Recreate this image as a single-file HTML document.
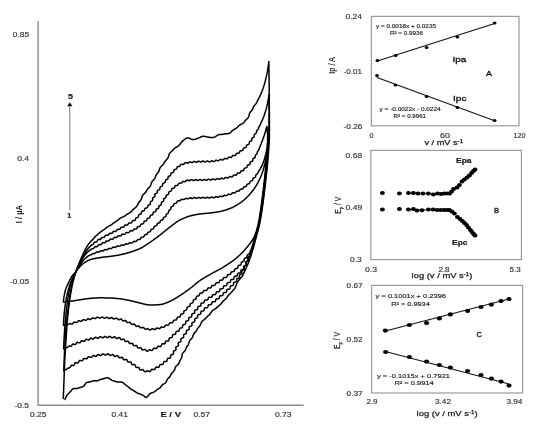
<!DOCTYPE html>
<html><head><meta charset="utf-8"><title>CV figure</title>
<style>html,body{margin:0;padding:0;background:#fff;overflow:hidden}svg{display:block;filter:blur(0.4px)}</style></head>
<body>
<svg width="550" height="424" viewBox="0 0 550 424" font-family="'Liberation Sans', sans-serif">
<rect width="550" height="424" fill="#fff"/>
<path d="M38.1,21 V405.2 H303.6" fill="none" stroke="#8c8c8c" stroke-width="1.4"/>
<text x="12.85" y="37.00" font-size="6.84" textLength="16.25" lengthAdjust="spacingAndGlyphs" fill="#333" stroke="#333" stroke-width="0.15">0.85</text>
<text x="17.20" y="161.10" font-size="6.84" textLength="11.90" lengthAdjust="spacingAndGlyphs" fill="#333" stroke="#333" stroke-width="0.15">0.4</text>
<text x="10.00" y="284.30" font-size="6.84" textLength="19.10" lengthAdjust="spacingAndGlyphs" fill="#333" stroke="#333" stroke-width="0.15">-0.05</text>
<text x="14.40" y="407.70" font-size="6.84" textLength="14.70" lengthAdjust="spacingAndGlyphs" fill="#333" stroke="#333" stroke-width="0.15">-0.5</text>
<text x="30.00" y="417.20" font-size="6.84" textLength="16.40" lengthAdjust="spacingAndGlyphs" fill="#333" stroke="#333" stroke-width="0.15">0.25</text>
<text x="111.60" y="417.20" font-size="6.84" textLength="16.20" lengthAdjust="spacingAndGlyphs" fill="#333" stroke="#333" stroke-width="0.15">0.41</text>
<text x="193.40" y="417.20" font-size="6.84" textLength="16.60" lengthAdjust="spacingAndGlyphs" fill="#333" stroke="#333" stroke-width="0.15">0.57</text>
<text x="275.00" y="417.20" font-size="6.84" textLength="16.60" lengthAdjust="spacingAndGlyphs" fill="#333" stroke="#333" stroke-width="0.15">0.73</text>
<text x="160.40" y="417.00" font-size="7.26" textLength="20.60" lengthAdjust="spacingAndGlyphs" fill="#111" font-weight="bold" stroke="#111" stroke-width="0.15">E / V</text>
<text transform="translate(21.90,223.20) rotate(-90)" x="0" y="0" font-size="9.08" textLength="18.20" lengthAdjust="spacingAndGlyphs" fill="#111" font-weight="bold">I / µA</text>
<path d="M69.8,105 V210" stroke="#777" stroke-width="1"/>
<path d="M69.8,102.2 L72.5,106.2 L67.1,106.2 Z" fill="#111"/>
<text x="68.00" y="98.60" font-size="7.82" textLength="5.00" lengthAdjust="spacingAndGlyphs" fill="#111" font-weight="bold" stroke="#111" stroke-width="0.15">5</text>
<text x="67.20" y="218.40" font-size="7.82" textLength="4.00" lengthAdjust="spacingAndGlyphs" fill="#111" font-weight="bold" stroke="#111" stroke-width="0.15">1</text>
<path d="M63.4,302.0 L63.4,301.5 L63.5,301.1 L63.5,300.6 L63.5,300.2 L63.6,299.7 L63.6,299.2 L63.7,298.8 L63.7,298.3 L63.8,297.9 L63.9,297.4 L63.9,297.0 L64.0,296.5 L64.1,296.1 L64.2,295.6 L64.3,295.2 L64.4,294.7 L64.5,294.3 L64.5,293.8 L64.6,293.4 L64.7,293.0 L64.8,292.5 L64.9,292.1 L65.0,291.6 L65.2,291.2 L65.3,290.8 L65.4,290.3 L65.5,289.9 L65.6,289.5 L65.8,289.0 L65.9,288.6 L66.1,288.2 L66.3,287.8 L66.4,287.3 L66.6,286.9 L66.8,286.5 L67.0,286.1 L67.2,285.7 L67.4,285.2 L67.6,284.8 L67.8,284.4 L68.0,284.0 L68.1,283.6 L68.3,283.1 L68.5,282.7 L68.7,282.3 L68.9,281.9 L69.1,281.5 L69.3,281.1 L69.5,280.6 L69.7,280.2 L69.9,279.8 L70.1,279.4 L70.3,279.0 L70.5,278.6 L70.7,278.2 L70.9,277.8 L71.1,277.4 L71.4,277.0 L71.6,276.7 L71.9,276.3 L72.2,275.9 L72.4,275.6 L72.7,275.2 L73.0,274.9 L73.3,274.5 L73.6,274.2 L73.9,273.8 L74.2,273.5 L74.5,273.2 L74.8,272.8 L75.2,272.5 L75.5,272.1 L75.8,271.8 L76.1,271.4 L76.3,271.1 L76.6,270.7 L76.9,270.4 L77.2,270.0 L77.5,269.6 L77.8,269.3 L78.1,268.9 L78.3,268.5 L78.6,268.2 L78.9,267.8 L79.2,267.4 L79.5,267.1 L79.8,266.7 L80.1,266.4 L80.4,266.1 L80.7,265.7 L81.0,265.4 L81.3,265.1 L81.7,264.8 L82.0,264.5 L82.3,264.2 L82.7,264.0 L83.0,263.7 L83.4,263.4 L83.8,263.1 L84.1,262.8 L84.5,262.6 L84.9,262.3 L85.3,262.1 L85.7,261.8 L86.1,261.6 L86.5,261.3 L86.9,261.1 L87.3,260.9 L87.7,260.6 L88.1,260.4 L88.5,260.3 L89.0,260.1 L89.4,259.9 L89.8,259.8 L90.2,259.6 L90.6,259.5 L91.1,259.4 L91.5,259.3 L91.9,259.1 L92.4,259.0 L92.8,258.9 L93.2,258.8 L93.7,258.7 L94.1,258.6 L94.6,258.5 L95.0,258.4 L95.5,258.4 L95.9,258.3 L96.4,258.2 L96.9,258.1 L97.3,258.0 L97.8,258.0 L98.2,257.9 L98.7,257.8 L99.1,257.7 L99.6,257.7 L100.0,257.6 L100.5,257.5 L100.9,257.5 L101.4,257.4 L101.8,257.3 L102.3,257.3 L102.7,257.2 L103.2,257.2 L103.6,257.1 L104.1,257.1 L104.6,257.0 L105.0,257.0 L105.5,256.9 L105.9,256.9 L106.4,256.8 L106.8,256.8 L107.3,256.7 L107.7,256.7 L108.2,256.6 L108.6,256.6 L109.1,256.5 L109.5,256.5 L110.0,256.4 L110.4,256.3 L110.9,256.3 L111.3,256.2 L111.8,256.2 L112.2,256.1 L112.7,256.0 L113.1,256.0 L113.6,255.9 L114.1,255.8 L114.5,255.8 L115.0,255.7 L115.4,255.6 L115.9,255.5 L116.3,255.5 L116.8,255.4 L117.2,255.3 L117.7,255.2 L118.1,255.2 L118.6,255.1 L119.0,255.0 L119.4,254.9 L119.9,254.8 L120.3,254.7 L120.8,254.6 L121.2,254.5 L121.7,254.4 L122.1,254.3 L122.6,254.2 L123.0,254.1 L123.4,254.0 L123.9,253.9 L124.3,253.8 L124.8,253.7 L125.2,253.6 L125.7,253.5 L126.1,253.3 L126.5,253.2 L127.0,253.1 L127.4,253.0 L127.9,252.8 L128.3,252.7 L128.7,252.6 L129.2,252.5 L129.6,252.3 L130.0,252.2 L130.5,252.1 L130.9,251.9 L131.3,251.8 L131.8,251.6 L132.2,251.5 L132.6,251.4 L133.1,251.2 L133.5,251.1 L134.0,250.9 L134.4,250.8 L134.8,250.6 L135.2,250.5 L135.7,250.3 L136.1,250.1 L136.5,250.0 L137.0,249.8 L137.4,249.6 L137.8,249.5 L138.2,249.3 L138.6,249.1 L139.1,248.9 L139.5,248.7 L139.9,248.6 L140.3,248.4 L140.7,248.2 L141.1,248.0 L141.5,247.8 L141.9,247.5 L142.3,247.3 L142.7,247.1 L143.1,246.9 L143.5,246.6 L143.8,246.4 L144.2,246.2 L144.6,245.9 L145.0,245.7 L145.4,245.4 L145.8,245.2 L146.2,244.9 L146.5,244.6 L146.9,244.4 L147.3,244.1 L147.7,243.9 L148.1,243.6 L148.4,243.4 L148.8,243.1 L149.2,242.8 L149.6,242.6 L150.0,242.3 L150.3,242.1 L150.7,241.8 L151.1,241.6 L151.5,241.3 L151.8,241.0 L152.2,240.8 L152.6,240.5 L152.9,240.3 L153.3,240.0 L153.7,239.7 L154.1,239.5 L154.4,239.2 L154.8,238.9 L155.2,238.6 L155.5,238.4 L155.9,238.1 L156.3,237.8 L156.6,237.6 L157.0,237.3 L157.4,237.0 L157.7,236.7 L158.1,236.5 L158.4,236.2 L158.8,235.9 L159.2,235.6 L159.5,235.4 L159.9,235.1 L160.3,234.8 L160.6,234.5 L161.0,234.2 L161.3,234.0 L161.7,233.7 L162.0,233.4 L162.4,233.1 L162.8,232.8 L163.1,232.5 L163.5,232.2 L163.8,232.0 L164.2,231.7 L164.5,231.4 L164.9,231.1 L165.2,230.8 L165.6,230.5 L165.9,230.2 L166.3,229.9 L166.6,229.6 L167.0,229.4 L167.3,229.1 L167.7,228.8 L168.1,228.5 L168.4,228.2 L168.8,227.9 L169.1,227.7 L169.5,227.4 L169.9,227.1 L170.2,226.8 L170.6,226.6 L171.0,226.3 L171.3,226.0 L171.7,225.7 L172.0,225.4 L172.4,225.2 L172.8,224.9 L173.1,224.6 L173.5,224.3 L173.9,224.0 L174.2,223.8 L174.6,223.5 L175.0,223.2 L175.3,222.9 L175.7,222.7 L176.1,222.4 L176.5,222.1 L176.8,221.9 L177.2,221.6 L177.6,221.4 L178.0,221.2 L178.4,220.9 L178.8,220.7 L179.1,220.5 L179.5,220.2 L179.9,220.0 L180.3,219.8 L180.7,219.6 L181.1,219.4 L181.5,219.2 L182.0,219.0 L182.4,218.8 L182.8,218.6 L183.2,218.5 L183.6,218.3 L184.0,218.1 L184.5,217.9 L184.9,217.7 L185.3,217.6 L185.8,217.4 L186.2,217.2 L186.6,217.1 L187.0,216.9 L187.5,216.8 L187.9,216.6 L188.3,216.5 L188.8,216.3 L189.2,216.2 L189.7,216.1 L190.1,216.0 L190.5,215.9 L191.0,215.7 L191.4,215.6 L191.8,215.5 L192.3,215.4 L192.7,215.3 L193.2,215.2 L193.6,215.1 L194.1,215.0 L194.5,214.9 L195.0,214.8 L195.4,214.8 L195.9,214.7 L196.3,214.6 L196.8,214.5 L197.2,214.4 L197.7,214.3 L198.1,214.3 L198.6,214.2 L199.0,214.1 L199.5,214.1 L199.9,214.0 L200.4,214.0 L200.8,213.9 L201.3,213.8 L201.7,213.8 L202.2,213.7 L202.6,213.7 L203.1,213.7 L203.5,213.6 L204.0,213.6 L204.4,213.5 L204.9,213.5 L205.4,213.5 L205.8,213.4 L206.3,213.4 L206.7,213.3 L207.2,213.3 L207.6,213.3 L208.1,213.2 L208.5,213.2 L209.0,213.1 L209.4,213.1 L209.9,213.0 L210.4,213.0 L210.8,212.9 L211.3,212.8 L211.7,212.8 L212.2,212.7 L212.6,212.7 L213.1,212.6 L213.5,212.6 L214.0,212.5 L214.4,212.4 L214.9,212.4 L215.3,212.3 L215.8,212.2 L216.2,212.2 L216.7,212.1 L217.1,212.0 L217.6,211.9 L218.0,211.9 L218.5,211.8 L218.9,211.7 L219.4,211.6 L219.8,211.5 L220.3,211.4 L220.7,211.4 L221.1,211.3 L221.6,211.2 L222.0,211.0 L222.5,210.9 L222.9,210.8 L223.4,210.7 L223.8,210.6 L224.3,210.5 L224.7,210.3 L225.1,210.2 L225.6,210.1 L226.0,209.9 L226.4,209.8 L226.9,209.6 L227.3,209.5 L227.7,209.3 L228.2,209.2 L228.6,209.0 L229.0,208.9 L229.4,208.7 L229.9,208.6 L230.3,208.4 L230.7,208.2 L231.1,208.0 L231.5,207.9 L231.9,207.7 L232.4,207.5 L232.8,207.3 L233.2,207.1 L233.6,206.9 L234.0,206.7 L234.4,206.4 L234.8,206.2 L235.2,206.0 L235.6,205.8 L236.0,205.5 L236.4,205.3 L236.8,205.1 L237.2,204.8 L237.6,204.6 L238.0,204.3 L238.4,204.1 L238.7,203.8 L239.1,203.6 L239.5,203.3 L239.9,203.1 L240.2,202.8 L240.6,202.6 L241.0,202.3 L241.3,202.0 L241.7,201.8 L242.1,201.5 L242.4,201.2 L242.8,200.9 L243.1,200.6 L243.5,200.3 L243.8,200.1 L244.2,199.8 L244.5,199.5 L244.9,199.1 L245.2,198.8 L245.6,198.5 L245.9,198.2 L246.2,197.9 L246.6,197.6 L246.9,197.3 L247.2,196.9 L247.6,196.6 L247.9,196.3 L248.2,196.0 L248.5,195.6 L248.8,195.3 L249.1,195.0 L249.4,194.6 L249.7,194.3 L250.0,194.0 L250.3,193.6 L250.6,193.3 L250.9,192.9 L251.2,192.6 L251.5,192.2 L251.8,191.9 L252.1,191.5 L252.3,191.2 L252.6,190.8 L252.9,190.4 L253.2,190.1 L253.5,189.7 L253.7,189.3 L254.0,189.0 L254.3,188.6 L254.5,188.2 L254.8,187.8 L255.0,187.4 L255.3,187.0 L255.6,186.7 L255.8,186.3 L256.0,185.9 L256.3,185.5 L256.5,185.1 L256.8,184.7 L257.0,184.3 L257.2,183.9 L257.4,183.5 L257.7,183.1 L257.9,182.7 L258.1,182.3 L258.3,181.9 L258.5,181.5 L258.7,181.1 L258.9,180.7 L259.1,180.3 L259.3,179.9 L259.5,179.5 L259.7,179.1 L259.9,178.7 L260.1,178.3 L260.3,177.8 L260.4,177.4 L260.6,177.0 L260.8,176.6 L261.0,176.1 L261.2,175.7 L261.3,175.3 L261.5,174.9 L261.7,174.4 L261.8,174.0 L262.0,173.6 L262.1,173.1 L262.3,172.7 L262.4,172.3 L262.6,171.9 L262.7,171.4 L262.9,171.0 L263.0,170.6 L263.1,170.1 L263.2,169.7 L263.4,169.3 L263.5,168.8 L263.6,168.4 L263.7,168.0 L263.9,167.5 L264.0,167.1 L264.1,166.6 L264.2,166.2 L264.3,165.8 L264.4,165.3 L264.6,164.9 L264.7,164.4 L264.8,164.0 L264.9,163.6 L265.0,163.1 L265.1,162.7 L265.2,162.2 L265.3,161.8 L265.4,161.3 L265.5,160.9 L265.6,160.4 L265.7,160.0 L265.8,159.5 L265.8,159.1 L265.9,158.6 L266.0,158.2 L266.1,157.7 L266.2,157.3 L266.2,156.8 L266.3,156.4 L266.4,155.9 L266.4,155.5 L266.5,155.0 L266.5,155.5 L266.4,155.9 L266.4,156.4 L266.4,156.8 L266.4,157.3 L266.3,157.7 L266.3,158.2 L266.3,158.6 L266.2,159.1 L266.2,159.5 L266.2,160.0 L266.2,160.5 L266.1,160.9 L266.1,161.4 L266.1,161.8 L266.0,162.3 L266.0,162.7 L266.0,163.2 L265.9,163.6 L265.9,164.1 L265.8,164.5 L265.8,165.0 L265.8,165.5 L265.7,165.9 L265.7,166.4 L265.7,166.8 L265.6,167.3 L265.6,167.7 L265.6,168.2 L265.5,168.6 L265.5,169.1 L265.4,169.5 L265.4,170.0 L265.4,170.5 L265.3,170.9 L265.3,171.4 L265.2,171.8 L265.2,172.3 L265.2,172.7 L265.1,173.2 L265.1,173.6 L265.0,174.1 L265.0,174.5 L264.9,175.0 L264.9,175.4 L264.8,175.9 L264.8,176.3 L264.7,176.8 L264.7,177.3 L264.6,177.7 L264.6,178.2 L264.6,178.6 L264.5,179.1 L264.5,179.5 L264.4,180.0 L264.4,180.4 L264.3,180.9 L264.3,181.3 L264.2,181.8 L264.2,182.2 L264.1,182.7 L264.1,183.1 L264.0,183.6 L263.9,184.0 L263.9,184.5 L263.8,185.0 L263.8,185.4 L263.7,185.9 L263.7,186.3 L263.6,186.8 L263.6,187.2 L263.5,187.7 L263.5,188.1 L263.4,188.6 L263.4,189.0 L263.3,189.5 L263.3,189.9 L263.2,190.4 L263.2,190.8 L263.1,191.3 L263.0,191.7 L263.0,192.2 L262.9,192.6 L262.9,193.1 L262.8,193.6 L262.8,194.0 L262.7,194.5 L262.7,194.9 L262.6,195.4 L262.5,195.8 L262.5,196.3 L262.4,196.7 L262.4,197.2 L262.3,197.6 L262.3,198.1 L262.2,198.5 L262.1,199.0 L262.1,199.4 L262.0,199.9 L262.0,200.3 L261.9,200.8 L261.8,201.2 L261.8,201.7 L261.7,202.1 L261.7,202.6 L261.6,203.0 L261.5,203.5 L261.5,203.9 L261.4,204.4 L261.3,204.9 L261.3,205.3 L261.2,205.8 L261.2,206.2 L261.1,206.7 L261.0,207.1 L261.0,207.6 L260.9,208.0 L260.8,208.5 L260.8,208.9 L260.7,209.4 L260.6,209.8 L260.6,210.3 L260.5,210.7 L260.4,211.2 L260.4,211.6 L260.3,212.1 L260.2,212.5 L260.2,213.0 L260.1,213.4 L260.0,213.9 L260.0,214.3 L259.9,214.8 L259.8,215.2 L259.7,215.7 L259.7,216.1 L259.6,216.6 L259.5,217.0 L259.4,217.5 L259.4,217.9 L259.3,218.4 L259.2,218.8 L259.1,219.3 L259.1,219.7 L259.0,220.2 L258.9,220.6 L258.8,221.1 L258.7,221.5 L258.6,222.0 L258.5,222.4 L258.4,222.8 L258.4,223.3 L258.3,223.7 L258.2,224.2 L258.1,224.6 L258.0,225.1 L257.9,225.5 L257.8,226.0 L257.6,226.4 L257.5,226.9 L257.4,227.3 L257.3,227.8 L257.2,228.2 L257.1,228.6 L257.0,229.1 L256.8,229.5 L256.7,230.0 L256.6,230.4 L256.4,230.9 L256.3,231.3 L256.2,231.7 L256.0,232.2 L255.9,232.6 L255.7,233.0 L255.6,233.5 L255.4,233.9 L255.3,234.3 L255.1,234.7 L255.0,235.1 L254.8,235.6 L254.6,236.0 L254.4,236.4 L254.3,236.8 L254.1,237.2 L253.9,237.6 L253.7,238.0 L253.4,238.4 L253.2,238.7 L253.0,239.1 L252.8,239.5 L252.5,239.9 L252.3,240.3 L252.0,240.7 L251.8,241.1 L251.5,241.4 L251.3,241.8 L251.0,242.2 L250.7,242.6 L250.5,242.9 L250.2,243.3 L249.9,243.7 L249.6,244.0 L249.3,244.4 L249.0,244.8 L248.7,245.1 L248.4,245.5 L248.1,245.9 L247.8,246.2 L247.5,246.6 L247.2,246.9 L246.9,247.3 L246.6,247.6 L246.3,248.0 L246.0,248.3 L245.7,248.7 L245.4,249.0 L245.1,249.4 L244.9,249.7 L244.6,250.1 L244.3,250.4 L244.0,250.7 L243.7,251.1 L243.3,251.4 L243.0,251.7 L242.7,252.1 L242.4,252.4 L242.1,252.7 L241.8,253.0 L241.4,253.4 L241.1,253.7 L240.8,254.0 L240.5,254.3 L240.1,254.6 L239.8,255.0 L239.5,255.3 L239.1,255.6 L238.8,255.9 L238.4,256.2 L238.1,256.5 L237.8,256.8 L237.4,257.1 L237.1,257.4 L236.7,257.7 L236.4,258.0 L236.0,258.3 L235.7,258.6 L235.3,258.9 L235.0,259.1 L234.6,259.4 L234.3,259.7 L233.9,260.0 L233.5,260.3 L233.2,260.5 L232.8,260.8 L232.5,261.1 L232.1,261.4 L231.7,261.6 L231.3,261.9 L231.0,262.2 L230.6,262.4 L230.2,262.7 L229.9,262.9 L229.5,263.2 L229.1,263.5 L228.7,263.7 L228.3,264.0 L228.0,264.2 L227.6,264.5 L227.2,264.7 L226.8,265.0 L226.4,265.2 L226.0,265.5 L225.7,265.7 L225.3,266.0 L224.9,266.2 L224.5,266.4 L224.1,266.7 L223.7,266.9 L223.3,267.2 L222.9,267.4 L222.6,267.6 L222.2,267.9 L221.8,268.1 L221.4,268.3 L221.0,268.5 L220.6,268.8 L220.2,269.0 L219.8,269.2 L219.4,269.4 L219.0,269.6 L218.6,269.8 L218.2,270.1 L217.8,270.3 L217.4,270.5 L217.0,270.7 L216.6,270.9 L216.2,271.1 L215.8,271.3 L215.4,271.6 L215.0,271.8 L214.5,272.0 L214.1,272.2 L213.7,272.4 L213.3,272.6 L212.9,272.9 L212.5,273.1 L212.1,273.3 L211.8,273.5 L211.4,273.8 L211.0,274.0 L210.6,274.2 L210.2,274.4 L209.8,274.6 L209.4,274.9 L209.0,275.1 L208.6,275.3 L208.2,275.5 L207.8,275.8 L207.4,276.0 L207.0,276.2 L206.6,276.4 L206.2,276.7 L205.8,276.9 L205.4,277.1 L205.0,277.4 L204.6,277.6 L204.2,277.8 L203.8,278.1 L203.4,278.3 L203.0,278.5 L202.7,278.8 L202.3,279.0 L201.9,279.3 L201.5,279.5 L201.1,279.7 L200.7,280.0 L200.4,280.2 L200.0,280.5 L199.6,280.8 L199.3,281.0 L198.9,281.3 L198.5,281.6 L198.2,281.8 L197.8,282.1 L197.5,282.4 L197.1,282.7 L196.7,283.0 L196.4,283.3 L196.0,283.6 L195.7,283.8 L195.3,284.1 L195.0,284.4 L194.6,284.7 L194.3,285.0 L193.9,285.3 L193.6,285.6 L193.2,285.9 L192.9,286.2 L192.5,286.5 L192.2,286.8 L191.8,287.1 L191.5,287.4 L191.1,287.6 L190.8,287.9 L190.4,288.2 L190.0,288.5 L189.7,288.7 L189.3,289.0 L188.9,289.3 L188.6,289.6 L188.2,289.8 L187.8,290.1 L187.5,290.4 L187.1,290.6 L186.7,290.9 L186.4,291.2 L186.0,291.4 L185.6,291.7 L185.2,292.0 L184.9,292.2 L184.5,292.5 L184.1,292.8 L183.8,293.0 L183.4,293.3 L183.0,293.5 L182.6,293.8 L182.2,294.0 L181.9,294.3 L181.5,294.5 L181.1,294.8 L180.7,295.0 L180.3,295.3 L180.0,295.5 L179.6,295.8 L179.2,296.0 L178.8,296.3 L178.4,296.5 L178.0,296.8 L177.6,297.0 L177.3,297.3 L176.9,297.5 L176.5,297.8 L176.1,298.0 L175.7,298.2 L175.3,298.5 L174.9,298.7 L174.5,299.0 L174.1,299.2 L173.7,299.4 L173.3,299.6 L172.9,299.9 L172.5,300.1 L172.1,300.3 L171.7,300.5 L171.3,300.7 L170.9,300.9 L170.5,301.1 L170.1,301.3 L169.7,301.4 L169.3,301.6 L168.9,301.8 L168.4,302.0 L168.0,302.2 L167.6,302.3 L167.2,302.5 L166.7,302.7 L166.3,302.9 L165.9,303.1 L165.4,303.2 L165.0,303.4 L164.6,303.6 L164.1,303.7 L163.7,303.8 L163.3,304.0 L162.8,304.1 L162.4,304.2 L161.9,304.3 L161.5,304.4 L161.0,304.5 L160.6,304.5 L160.2,304.6 L159.7,304.6 L159.3,304.7 L158.8,304.7 L158.4,304.7 L157.9,304.7 L157.5,304.8 L157.0,304.8 L156.6,304.8 L156.1,304.8 L155.6,304.9 L155.2,304.9 L154.7,304.9 L154.3,304.9 L153.8,304.9 L153.3,304.9 L152.9,305.0 L152.4,305.0 L152.0,305.0 L151.5,305.0 L151.1,305.0 L150.6,305.0 L150.1,305.0 L149.7,305.0 L149.2,305.0 L148.8,304.9 L148.3,304.9 L147.9,304.8 L147.4,304.8 L147.0,304.7 L146.6,304.6 L146.1,304.5 L145.7,304.4 L145.2,304.3 L144.8,304.2 L144.3,304.1 L143.9,304.0 L143.4,303.9 L143.0,303.8 L142.5,303.6 L142.1,303.5 L141.6,303.4 L141.2,303.3 L140.8,303.2 L140.3,303.1 L139.9,303.0 L139.4,302.9 L139.0,302.8 L138.5,302.7 L138.1,302.6 L137.7,302.5 L137.2,302.3 L136.8,302.2 L136.3,302.1 L135.9,302.0 L135.4,301.9 L135.0,301.8 L134.6,301.7 L134.1,301.6 L133.7,301.4 L133.2,301.3 L132.8,301.2 L132.3,301.1 L131.9,301.0 L131.5,300.9 L131.0,300.8 L130.6,300.7 L130.1,300.6 L129.7,300.5 L129.2,300.4 L128.8,300.3 L128.3,300.3 L127.9,300.2 L127.4,300.1 L127.0,300.0 L126.5,299.9 L126.1,299.8 L125.7,299.7 L125.2,299.6 L124.8,299.5 L124.3,299.5 L123.9,299.4 L123.4,299.3 L123.0,299.2 L122.5,299.1 L122.1,299.1 L121.6,299.0 L121.2,298.9 L120.7,298.9 L120.3,298.8 L119.8,298.8 L119.4,298.7 L118.9,298.7 L118.4,298.6 L118.0,298.6 L117.5,298.5 L117.1,298.5 L116.6,298.4 L116.2,298.4 L115.7,298.4 L115.3,298.3 L114.8,298.3 L114.4,298.2 L113.9,298.2 L113.5,298.2 L113.0,298.1 L112.5,298.1 L112.1,298.1 L111.6,298.1 L111.2,298.0 L110.7,298.0 L110.3,298.0 L109.8,298.0 L109.4,298.0 L108.9,298.0 L108.4,298.0 L108.0,297.9 L107.5,297.9 L107.1,297.9 L106.6,297.9 L106.2,297.9 L105.7,297.9 L105.3,297.9 L104.8,297.9 L104.3,297.8 L103.9,297.8 L103.4,297.8 L103.0,297.8 L102.5,297.8 L102.1,297.8 L101.6,297.8 L101.2,297.8 L100.7,297.8 L100.2,297.8 L99.8,297.8 L99.3,297.8 L98.9,297.8 L98.4,297.8 L98.0,297.8 L97.5,297.9 L97.1,297.9 L96.6,297.9 L96.1,297.9 L95.7,297.9 L95.2,298.0 L94.8,298.0 L94.3,298.0 L93.9,298.1 L93.4,298.1 L93.0,298.2 L92.5,298.2 L92.1,298.2 L91.6,298.3 L91.1,298.3 L90.7,298.3 L90.2,298.4 L89.8,298.4 L89.3,298.5 L88.9,298.5 L88.4,298.6 L88.0,298.6 L87.5,298.7 L87.1,298.7 L86.6,298.8 L86.2,298.9 L85.7,298.9 L85.3,299.0 L84.8,299.1 L84.4,299.1 L83.9,299.2 L83.5,299.3 L83.0,299.3 L82.6,299.4 L82.1,299.5 L81.7,299.5 L81.2,299.6 L80.8,299.7 L80.3,299.8 L79.9,299.8 L79.4,299.9 L79.0,300.0 L78.5,300.0 L78.1,300.1 L77.6,300.2 L77.2,300.2 L76.7,300.3 L76.3,300.4 L75.8,300.4 L75.4,300.5 L74.9,300.6 L74.5,300.7 L74.0,300.7 L73.6,300.8 L73.1,300.9 L72.6,300.9 L72.2,301.0 L71.7,301.1 L71.3,301.1 L70.8,301.2 L70.4,301.2 L69.9,301.3 L69.5,301.4 L69.0,301.4 L68.6,301.5 L68.1,301.5 L67.7,301.6 L67.2,301.6 L66.8,301.7 L66.3,301.7 L65.9,301.8 L65.4,301.8 L65.0,301.9 L64.5,301.9 L64.1,302.0 L63.6,302.0" fill="none" stroke="#000" stroke-width="1.5" stroke-linejoin="round" stroke-linecap="round"/>
<path d="M63.5,325.4 L63.5,324.9 L63.5,324.5 L63.5,324.0 L63.5,323.6 L63.6,323.1 L63.6,322.7 L63.6,322.2 L63.6,321.7 L63.6,321.3 L63.7,320.8 L63.7,320.4 L63.7,319.9 L63.7,319.5 L63.8,319.0 L63.8,318.5 L63.8,318.1 L63.9,317.6 L63.9,317.2 L63.9,316.7 L64.0,316.3 L64.0,315.8 L64.1,315.4 L64.1,314.9 L64.1,314.5 L64.2,314.0 L64.2,313.5 L64.3,313.1 L64.3,312.6 L64.4,312.2 L64.4,311.7 L64.5,311.3 L64.5,310.8 L64.6,310.4 L64.6,309.9 L64.7,309.5 L64.7,309.0 L64.8,308.6 L64.8,308.1 L64.9,307.7 L64.9,307.2 L65.0,306.8 L65.0,306.3 L65.1,305.9 L65.1,305.4 L65.2,305.0 L65.3,304.5 L65.3,304.1 L65.4,303.6 L65.4,303.2 L65.5,302.7 L65.6,302.3 L65.7,301.8 L65.7,301.4 L65.8,300.9 L65.9,300.5 L66.0,300.0 L66.0,299.6 L66.1,299.1 L66.2,298.7 L66.3,298.2 L66.4,297.8 L66.5,297.3 L66.6,296.9 L66.7,296.4 L66.8,296.0 L66.9,295.5 L67.0,295.1 L67.1,294.6 L67.2,294.2 L67.3,293.8 L67.4,293.3 L67.5,292.9 L67.7,292.4 L67.8,292.0 L67.9,291.5 L68.0,291.1 L68.1,290.7 L68.3,290.2 L68.4,289.8 L68.5,289.3 L68.6,288.9 L68.7,288.5 L68.9,288.0 L69.0,287.6 L69.1,287.2 L69.3,286.7 L69.4,286.3 L69.5,285.9 L69.7,285.4 L69.8,285.0 L69.9,284.6 L70.1,284.1 L70.2,283.7 L70.4,283.3 L70.5,282.9 L70.7,282.5 L70.9,282.0 L71.0,281.6 L71.2,281.2 L71.4,280.8 L71.6,280.3 L71.7,279.9 L71.9,279.5 L72.1,279.1 L72.3,278.7 L72.5,278.3 L72.7,277.8 L72.9,277.4 L73.1,277.0 L73.3,276.6 L73.5,276.2 L73.7,275.8 L73.9,275.4 L74.2,275.0 L74.4,274.6 L74.6,274.2 L74.8,273.8 L75.0,273.4 L75.2,273.0 L75.4,272.5 L75.7,272.1 L75.9,271.7 L76.1,271.4 L76.3,271.0 L76.5,270.6 L76.7,270.2 L77.0,269.8 L77.2,269.4 L77.4,269.0 L77.6,268.6 L77.9,268.2 L78.1,267.8 L78.3,267.4 L78.6,267.0 L78.8,266.6 L79.0,266.2 L79.3,265.8 L79.5,265.4 L79.8,265.0 L80.0,264.6 L80.3,264.3 L80.6,263.9 L80.8,263.5 L81.1,263.2 L81.4,262.8 L81.6,262.5 L81.9,262.1 L82.2,261.8 L82.5,261.4 L82.8,261.1 L83.1,260.7 L83.4,260.4 L83.7,260.0 L84.0,259.7 L84.3,259.3 L84.7,259.0 L85.0,258.7 L85.3,258.3 L85.7,258.0 L86.0,257.7 L86.3,257.4 L86.7,257.1 L87.1,256.9 L87.4,256.6 L87.8,256.3 L88.1,256.1 L88.5,255.9 L88.9,255.7 L89.3,255.5 L89.7,255.2 L90.1,255.1 L90.5,254.9 L90.9,254.7 L91.4,254.5 L91.8,254.3 L92.2,254.0 L92.6,253.8 L93.0,253.6 L93.5,253.6 L94.0,253.6 L94.5,253.5 L94.9,253.4 L95.3,253.2 L95.7,252.8 L96.0,252.4 L96.4,252.1 L96.8,252.0 L97.3,252.0 L97.8,252.1 L98.3,252.2 L98.8,252.2 L99.2,252.0 L99.6,251.7 L99.9,251.3 L100.3,251.0 L100.7,250.8 L101.2,250.7 L101.7,250.8 L102.2,251.0 L102.7,251.0 L103.2,250.9 L103.6,250.7 L103.9,250.3 L104.3,249.9 L104.7,249.7 L105.1,249.6 L105.6,249.6 L106.1,249.7 L106.7,249.8 L107.1,249.8 L107.5,249.6 L107.9,249.3 L108.3,248.9 L108.6,248.5 L109.1,248.4 L109.5,248.4 L110.0,248.5 L110.6,248.6 L111.0,248.6 L111.5,248.5 L111.9,248.2 L112.2,247.8 L112.6,247.5 L113.0,247.2 L113.5,247.1 L113.9,247.2 L114.5,247.3 L115.0,247.4 L115.4,247.4 L115.8,247.2 L116.2,246.8 L116.6,246.5 L117.0,246.1 L117.4,246.0 L117.9,246.0 L118.4,246.2 L118.9,246.3 L119.4,246.3 L119.8,246.2 L120.2,245.9 L120.6,245.5 L121.0,245.2 L121.4,245.0 L121.8,244.9 L122.3,245.0 L122.8,245.2 L123.3,245.3 L123.8,245.2 L124.2,245.0 L124.6,244.6 L125.0,244.3 L125.3,244.0 L125.8,243.8 L126.3,243.9 L126.8,244.0 L127.3,244.1 L127.8,244.1 L128.2,244.0 L128.6,243.7 L128.9,243.3 L129.3,242.9 L129.7,242.7 L130.2,242.7 L130.7,242.8 L131.2,242.9 L131.7,242.9 L132.2,242.8 L132.6,242.6 L132.9,242.2 L133.3,241.8 L133.6,241.5 L134.1,241.3 L134.6,241.4 L135.1,241.4 L135.6,241.5 L136.0,241.4 L136.4,241.2 L136.7,240.8 L137.0,240.4 L137.3,240.0 L137.7,239.7 L138.1,239.6 L138.6,239.6 L139.2,239.6 L139.7,239.5 L140.1,239.3 L140.4,238.9 L140.6,238.4 L140.8,237.9 L141.1,237.6 L141.5,237.3 L142.0,237.2 L142.6,237.2 L143.1,237.1 L143.5,236.9 L143.8,236.6 L144.1,236.1 L144.3,235.6 L144.5,235.2 L144.8,234.9 L145.3,234.7 L145.8,234.6 L146.3,234.5 L146.8,234.4 L147.1,234.1 L147.4,233.7 L147.6,233.2 L147.8,232.7 L148.0,232.3 L148.4,232.1 L148.9,231.9 L149.4,231.9 L149.9,231.7 L150.3,231.5 L150.6,231.1 L150.7,230.6 L150.9,230.1 L151.1,229.6 L151.4,229.3 L151.8,229.1 L152.4,229.0 L152.9,228.9 L153.3,228.6 L153.6,228.3 L153.8,227.9 L154.0,227.3 L154.1,226.9 L154.4,226.5 L154.8,226.2 L155.2,226.1 L155.8,225.9 L156.2,225.8 L156.6,225.5 L156.9,225.1 L157.0,224.6 L157.2,224.1 L157.4,223.7 L157.7,223.3 L158.2,223.2 L158.7,223.0 L159.2,222.9 L159.6,222.7 L159.9,222.3 L160.1,221.9 L160.2,221.4 L160.4,220.9 L160.7,220.5 L161.1,220.3 L161.6,220.1 L162.1,220.0 L162.6,219.8 L162.9,219.5 L163.1,219.1 L163.3,218.6 L163.4,218.1 L163.6,217.6 L163.9,217.3 L164.3,217.1 L164.8,216.9 L165.3,216.8 L165.7,216.5 L166.0,216.1 L166.1,215.6 L166.1,215.1 L166.3,214.6 L166.5,214.2 L166.8,213.9 L167.3,213.7 L167.8,213.4 L168.2,213.2 L168.4,212.8 L168.5,212.3 L168.6,211.8 L168.6,211.2 L168.7,210.8 L169.0,210.4 L169.4,210.1 L169.9,209.8 L170.3,209.6 L170.6,209.2 L170.8,208.8 L170.9,208.3 L170.9,207.8 L171.0,207.3 L171.3,206.9 L171.6,206.6 L172.1,206.4 L172.6,206.3 L173.0,206.1 L173.3,205.7 L173.5,205.3 L173.6,204.8 L173.8,204.3 L174.0,203.9 L174.4,203.6 L174.9,203.4 L175.5,203.3 L176.0,203.2 L176.4,203.0 L176.7,202.6 L176.9,202.1 L177.1,201.6 L177.4,201.2 L177.8,200.9 L178.3,200.8 L178.8,200.8 L179.3,200.9 L179.7,200.8 L180.1,200.7 L180.4,200.3 L180.8,199.9 L181.1,199.6 L181.5,199.4 L182.0,199.3 L182.5,199.4 L183.0,199.6 L183.5,199.6 L183.9,199.6 L184.4,199.3 L184.8,199.0 L185.2,198.6 L185.6,198.4 L186.0,198.3 L186.5,198.4 L187.0,198.6 L187.5,198.8 L188.0,198.8 L188.5,198.7 L188.9,198.5 L189.3,198.1 L189.8,197.9 L190.2,197.8 L190.7,197.8 L191.1,198.0 L191.6,198.3 L192.1,198.5 L192.5,198.5 L193.0,198.3 L193.4,198.0 L193.9,197.7 L194.3,197.6 L194.8,197.6 L195.2,197.7 L195.7,198.0 L196.2,198.2 L196.6,198.3 L197.1,198.2 L197.5,198.0 L198.0,197.7 L198.4,197.5 L198.9,197.4 L199.3,197.5 L199.8,197.8 L200.3,198.0 L200.7,198.2 L201.2,198.2 L201.6,198.0 L202.1,197.7 L202.5,197.5 L203.0,197.3 L203.4,197.4 L203.9,197.6 L204.4,197.8 L204.8,198.0 L205.3,198.1 L205.7,198.0 L206.2,197.8 L206.6,197.5 L207.1,197.3 L207.5,197.3 L208.0,197.4 L208.4,197.6 L208.9,197.9 L209.4,198.0 L209.8,198.0 L210.3,197.8 L210.7,197.5 L211.2,197.2 L211.6,197.1 L212.1,197.1 L212.5,197.3 L213.0,197.6 L213.5,197.7 L213.9,197.8 L214.4,197.6 L214.8,197.3 L215.2,197.0 L215.7,196.8 L216.1,196.7 L216.6,196.8 L217.1,197.0 L217.6,197.2 L218.0,197.3 L218.5,197.2 L218.9,196.9 L219.3,196.6 L219.7,196.3 L220.2,196.2 L220.6,196.2 L221.1,196.3 L221.6,196.5 L222.1,196.6 L222.6,196.6 L223.0,196.4 L223.4,196.0 L223.8,195.7 L224.2,195.4 L224.6,195.3 L225.1,195.4 L225.6,195.5 L226.1,195.6 L226.6,195.6 L227.0,195.4 L227.4,195.1 L227.8,194.7 L228.1,194.4 L228.6,194.2 L229.0,194.2 L229.5,194.3 L230.0,194.4 L230.5,194.4 L231.0,194.3 L231.4,194.0 L231.7,193.6 L232.0,193.2 L232.4,193.0 L232.9,192.8 L233.4,192.8 L233.9,192.9 L234.4,193.0 L234.9,192.9 L235.3,192.7 L235.6,192.3 L235.9,191.8 L236.3,191.5 L236.7,191.2 L237.1,191.1 L237.6,191.2 L238.2,191.2 L238.6,191.2 L239.0,191.0 L239.4,190.6 L239.6,190.2 L239.9,189.7 L240.2,189.4 L240.6,189.2 L241.1,189.2 L241.7,189.2 L242.2,189.1 L242.6,188.9 L242.9,188.6 L243.2,188.1 L243.4,187.6 L243.6,187.2 L244.0,186.9 L244.4,186.8 L245.0,186.7 L245.5,186.6 L246.0,186.4 L246.3,186.1 L246.5,185.7 L246.7,185.2 L246.9,184.7 L247.2,184.3 L247.6,184.1 L248.1,183.9 L248.6,183.8 L249.1,183.7 L249.4,183.4 L249.7,183.0 L249.9,182.5 L250.0,182.0 L250.2,181.6 L250.5,181.3 L250.9,181.0 L251.4,180.9 L251.9,180.7 L252.3,180.5 L252.6,180.1 L252.8,179.7 L252.9,179.1 L253.0,178.6 L253.2,178.2 L253.6,177.9 L254.1,177.7 L254.6,177.5 L255.0,177.3 L255.3,176.9 L255.5,176.5 L255.6,176.0 L255.7,175.5 L255.9,175.1 L256.2,174.7 L256.6,174.4 L256.9,174.2 L257.3,173.8 L257.6,173.5 L257.8,173.1 L258.0,172.7 L258.1,172.2 L258.3,171.8 L258.6,171.4 L258.8,171.1 L259.1,170.7 L259.4,170.3 L259.6,169.9 L259.8,169.5 L260.1,169.1 L260.3,168.7 L260.5,168.3 L260.7,167.9 L261.0,167.5 L261.2,167.1 L261.4,166.7 L261.6,166.3 L261.8,165.9 L262.0,165.5 L262.2,165.1 L262.4,164.6 L262.6,164.2 L262.8,163.8 L263.0,163.4 L263.1,163.0 L263.3,162.5 L263.5,162.1 L263.6,161.7 L263.8,161.3 L263.9,160.8 L264.0,160.4 L264.1,160.0 L264.3,159.6 L264.4,159.1 L264.5,158.7 L264.6,158.3 L264.8,157.9 L264.9,157.4 L265.0,157.0 L265.1,156.6 L265.2,156.1 L265.4,155.7 L265.5,155.2 L265.6,154.8 L265.7,154.4 L265.8,153.9 L265.9,153.5 L266.0,153.0 L266.1,152.6 L266.2,152.1 L266.3,151.7 L266.4,151.3 L266.5,150.8 L266.6,150.4 L266.7,149.9 L266.7,149.5 L266.8,149.0 L266.9,148.5 L267.0,148.1 L267.0,147.6 L267.1,147.2 L267.2,146.7 L267.2,146.3 L267.3,145.8 L267.3,145.3 L267.4,144.9 L267.4,144.4 L267.4,143.9 L267.5,143.5 L267.5,143.0 L267.5,143.5 L267.5,143.9 L267.5,144.4 L267.5,144.8 L267.5,145.3 L267.5,145.7 L267.5,146.2 L267.5,146.6 L267.5,147.1 L267.5,147.6 L267.4,148.0 L267.4,148.5 L267.4,148.9 L267.4,149.4 L267.4,149.8 L267.4,150.3 L267.4,150.7 L267.4,151.2 L267.3,151.7 L267.3,152.1 L267.3,152.6 L267.3,153.0 L267.3,153.5 L267.3,153.9 L267.3,154.4 L267.2,154.8 L267.2,155.3 L267.2,155.7 L267.2,156.2 L267.2,156.7 L267.2,157.1 L267.1,157.6 L267.1,158.0 L267.1,158.5 L267.1,158.9 L267.0,159.4 L267.0,159.8 L267.0,160.3 L266.9,160.7 L266.9,161.2 L266.9,161.6 L266.8,162.1 L266.8,162.5 L266.7,163.0 L266.7,163.5 L266.7,163.9 L266.6,164.4 L266.6,164.8 L266.5,165.3 L266.5,165.7 L266.4,166.2 L266.4,166.6 L266.3,167.1 L266.3,167.5 L266.2,168.0 L266.2,168.4 L266.1,168.9 L266.1,169.3 L266.0,169.8 L266.0,170.2 L265.9,170.7 L265.9,171.2 L265.8,171.6 L265.7,172.1 L265.7,172.5 L265.6,173.0 L265.6,173.4 L265.5,173.9 L265.5,174.3 L265.4,174.8 L265.4,175.2 L265.3,175.7 L265.3,176.1 L265.2,176.6 L265.1,177.0 L265.1,177.5 L265.0,177.9 L265.0,178.4 L264.9,178.8 L264.9,179.3 L264.8,179.8 L264.8,180.2 L264.7,180.7 L264.7,181.1 L264.6,181.6 L264.6,182.0 L264.5,182.5 L264.5,182.9 L264.4,183.4 L264.4,183.8 L264.3,184.3 L264.3,184.7 L264.2,185.2 L264.2,185.6 L264.1,186.1 L264.1,186.5 L264.0,187.0 L264.0,187.4 L263.9,187.9 L263.8,188.3 L263.8,188.8 L263.7,189.2 L263.7,189.7 L263.6,190.2 L263.6,190.6 L263.5,191.1 L263.5,191.5 L263.4,192.0 L263.4,192.4 L263.3,192.9 L263.2,193.3 L263.2,193.8 L263.1,194.2 L263.1,194.7 L263.0,195.1 L263.0,195.6 L262.9,196.0 L262.9,196.5 L262.8,196.9 L262.7,197.4 L262.7,197.8 L262.6,198.3 L262.6,198.7 L262.5,199.2 L262.4,199.6 L262.4,200.1 L262.3,200.5 L262.3,201.0 L262.2,201.4 L262.1,201.9 L262.1,202.3 L262.0,202.8 L262.0,203.3 L261.9,203.7 L261.8,204.2 L261.8,204.6 L261.7,205.1 L261.6,205.5 L261.6,206.0 L261.5,206.4 L261.5,206.9 L261.4,207.3 L261.3,207.8 L261.3,208.2 L261.2,208.7 L261.1,209.1 L261.1,209.6 L261.0,210.0 L260.9,210.5 L260.9,210.9 L260.8,211.4 L260.7,211.8 L260.7,212.3 L260.6,212.7 L260.5,213.2 L260.5,213.6 L260.4,214.1 L260.3,214.5 L260.2,215.0 L260.2,215.4 L260.1,215.9 L260.0,216.3 L260.0,216.8 L259.9,217.2 L259.8,217.7 L259.7,218.1 L259.7,218.6 L259.6,219.0 L259.5,219.5 L259.4,219.9 L259.3,220.4 L259.2,220.8 L259.2,221.2 L259.1,221.7 L259.0,222.1 L258.9,222.6 L258.8,223.0 L258.7,223.5 L258.6,223.9 L258.5,224.4 L258.4,224.8 L258.3,225.2 L258.2,225.7 L258.1,226.1 L258.0,226.6 L257.9,227.0 L257.7,227.4 L257.6,227.9 L257.5,228.3 L257.4,228.8 L257.3,229.2 L257.1,229.6 L257.0,230.1 L256.9,230.5 L256.7,230.9 L256.6,231.4 L256.5,231.8 L256.3,232.3 L256.2,232.7 L256.1,233.1 L255.9,233.6 L255.8,234.0 L255.7,234.4 L255.5,234.9 L255.4,235.3 L255.3,235.7 L255.1,236.2 L255.0,236.6 L254.9,237.1 L254.8,237.5 L254.7,237.9 L254.5,238.4 L254.4,238.8 L254.3,239.3 L254.2,239.7 L254.1,240.2 L254.0,240.6 L253.8,241.1 L253.7,241.5 L253.6,242.0 L253.5,242.4 L253.4,242.9 L253.3,243.3 L253.1,243.7 L253.0,244.2 L252.9,244.6 L252.8,245.1 L252.6,245.5 L252.5,245.9 L252.4,246.4 L252.2,246.8 L252.1,247.2 L251.9,247.6 L251.8,248.1 L251.6,248.5 L251.5,248.9 L251.3,249.3 L251.2,249.7 L250.9,250.1 L250.7,250.5 L250.4,250.9 L250.2,251.2 L250.0,251.7 L249.9,252.1 L249.7,252.5 L249.6,253.0 L249.4,253.4 L249.1,253.8 L248.7,254.0 L248.3,254.3 L247.8,254.6 L247.5,254.9 L247.3,255.3 L247.1,255.8 L247.1,256.3 L247.0,256.8 L246.8,257.3 L246.5,257.6 L246.1,257.8 L245.5,258.0 L245.0,258.2 L244.6,258.4 L244.3,258.8 L244.2,259.3 L244.2,259.9 L244.2,260.4 L244.0,260.9 L243.8,261.3 L243.3,261.5 L242.8,261.7 L242.2,261.8 L241.8,262.0 L241.4,262.3 L241.3,262.8 L241.2,263.3 L241.1,263.9 L241.0,264.4 L240.8,264.8 L240.4,265.1 L239.9,265.2 L239.3,265.3 L238.8,265.5 L238.4,265.7 L238.1,266.1 L238.0,266.6 L237.9,267.1 L237.8,267.7 L237.6,268.1 L237.3,268.4 L236.8,268.5 L236.2,268.6 L235.7,268.7 L235.2,268.8 L234.9,269.1 L234.7,269.6 L234.6,270.1 L234.4,270.7 L234.2,271.1 L233.9,271.5 L233.5,271.6 L232.9,271.7 L232.4,271.7 L231.8,271.8 L231.4,272.0 L231.1,272.4 L231.0,272.9 L230.8,273.4 L230.6,273.9 L230.3,274.3 L229.9,274.5 L229.4,274.6 L228.8,274.6 L228.3,274.6 L227.8,274.8 L227.5,275.1 L227.2,275.5 L227.0,276.1 L226.9,276.6 L226.6,277.0 L226.2,277.3 L225.7,277.4 L225.2,277.4 L224.6,277.4 L224.1,277.5 L223.7,277.7 L223.5,278.1 L223.3,278.6 L223.1,279.2 L222.9,279.6 L222.5,280.0 L222.1,280.1 L221.6,280.2 L221.0,280.1 L220.5,280.2 L220.0,280.3 L219.7,280.7 L219.5,281.1 L219.3,281.7 L219.1,282.2 L218.8,282.5 L218.4,282.8 L217.9,282.8 L217.3,282.8 L216.8,282.8 L216.3,282.9 L215.9,283.2 L215.6,283.6 L215.4,284.1 L215.2,284.6 L215.0,285.0 L214.6,285.3 L214.1,285.4 L213.6,285.4 L213.0,285.4 L212.5,285.5 L212.1,285.6 L211.8,286.0 L211.5,286.5 L211.3,287.0 L211.1,287.5 L210.8,287.8 L210.3,288.0 L209.8,288.0 L209.2,288.0 L208.7,287.9 L208.2,288.0 L207.8,288.3 L207.6,288.7 L207.3,289.3 L207.1,289.8 L206.8,290.1 L206.4,290.4 L205.9,290.4 L205.3,290.4 L204.8,290.4 L204.3,290.4 L203.9,290.6 L203.6,291.0 L203.3,291.5 L203.1,292.0 L202.9,292.5 L202.6,292.8 L202.1,292.9 L201.6,293.0 L201.0,293.0 L200.5,293.0 L200.1,293.2 L199.8,293.6 L199.6,294.0 L199.5,294.6 L199.4,295.1 L199.1,295.5 L198.8,295.8 L198.3,295.9 L197.8,296.0 L197.2,296.1 L196.8,296.3 L196.5,296.7 L196.3,297.1 L196.2,297.7 L196.2,298.2 L196.0,298.7 L195.8,299.1 L195.3,299.3 L194.8,299.5 L194.3,299.6 L193.8,299.8 L193.4,300.1 L193.2,300.6 L193.2,301.1 L193.1,301.7 L193.0,302.2 L192.8,302.6 L192.4,302.9 L191.9,303.1 L191.4,303.2 L190.9,303.4 L190.5,303.6 L190.2,304.0 L190.1,304.5 L190.0,305.1 L190.0,305.6 L189.8,306.1 L189.5,306.4 L189.0,306.6 L188.5,306.7 L187.9,306.9 L187.5,307.1 L187.2,307.4 L187.0,307.9 L186.9,308.4 L186.9,309.0 L186.8,309.5 L186.5,309.9 L186.1,310.1 L185.6,310.3 L185.0,310.4 L184.5,310.6 L184.2,310.9 L183.9,311.3 L183.8,311.8 L183.8,312.4 L183.7,312.9 L183.5,313.3 L183.1,313.6 L182.6,313.8 L182.1,313.9 L181.5,314.0 L181.1,314.2 L180.8,314.5 L180.6,315.0 L180.5,315.5 L180.4,316.1 L180.2,316.5 L179.9,316.8 L179.4,317.0 L178.9,317.1 L178.3,317.1 L177.8,317.2 L177.4,317.5 L177.2,317.9 L177.0,318.4 L176.9,319.0 L176.7,319.4 L176.4,319.8 L176.0,320.0 L175.4,320.1 L174.9,320.1 L174.3,320.1 L173.9,320.3 L173.5,320.6 L173.3,321.1 L173.1,321.6 L172.9,322.1 L172.6,322.5 L172.2,322.8 L171.7,322.8 L171.2,322.8 L170.6,322.8 L170.1,322.8 L169.7,323.0 L169.4,323.4 L169.2,323.9 L169.0,324.4 L168.7,324.8 L168.3,325.1 L167.8,325.2 L167.3,325.2 L166.7,325.1 L166.2,325.1 L165.7,325.2 L165.4,325.5 L165.1,325.9 L164.8,326.4 L164.5,326.9 L164.1,327.2 L163.7,327.3 L163.2,327.3 L162.6,327.1 L162.1,327.0 L161.6,327.0 L161.2,327.1 L160.8,327.5 L160.5,327.9 L160.1,328.3 L159.7,328.6 L159.3,328.7 L158.8,328.6 L158.3,328.4 L157.8,328.2 L157.3,328.0 L156.9,328.1 L156.4,328.3 L156.0,328.7 L155.6,329.1 L155.2,329.4 L154.8,329.6 L154.3,329.5 L153.8,329.3 L153.3,329.0 L152.8,328.8 L152.4,328.7 L151.9,328.8 L151.5,329.1 L151.0,329.5 L150.6,329.8 L150.1,330.0 L149.7,329.9 L149.2,329.7 L148.8,329.3 L148.4,329.0 L148.0,328.7 L147.6,328.6 L147.1,328.7 L146.6,328.9 L146.1,329.2 L145.5,329.3 L145.1,329.2 L144.7,328.9 L144.3,328.5 L144.0,328.0 L143.6,327.7 L143.2,327.4 L142.7,327.4 L142.2,327.5 L141.7,327.7 L141.1,327.8 L140.7,327.8 L140.3,327.6 L139.9,327.2 L139.6,326.8 L139.2,326.3 L138.9,326.0 L138.4,325.9 L137.9,326.0 L137.4,326.1 L136.8,326.3 L136.3,326.3 L135.9,326.1 L135.6,325.7 L135.3,325.3 L135.0,324.8 L134.7,324.4 L134.3,324.2 L133.8,324.1 L133.2,324.2 L132.7,324.4 L132.2,324.4 L131.7,324.3 L131.3,324.0 L131.0,323.6 L130.7,323.1 L130.4,322.7 L130.0,322.4 L129.6,322.3 L129.1,322.4 L128.5,322.5 L128.0,322.6 L127.5,322.6 L127.1,322.4 L126.7,322.0 L126.4,321.5 L126.1,321.0 L125.8,320.7 L125.3,320.5 L124.8,320.5 L124.3,320.7 L123.8,320.8 L123.3,320.9 L122.8,320.8 L122.5,320.5 L122.1,320.0 L121.8,319.6 L121.4,319.2 L121.0,319.0 L120.5,319.1 L120.0,319.2 L119.5,319.5 L119.0,319.7 L118.5,319.7 L118.1,319.5 L117.7,319.2 L117.3,318.8 L116.9,318.4 L116.5,318.2 L116.0,318.2 L115.5,318.3 L115.0,318.6 L114.5,318.8 L114.1,318.9 L113.6,318.9 L113.2,318.6 L112.8,318.3 L112.3,317.9 L111.9,317.6 L111.5,317.6 L111.0,317.7 L110.5,318.0 L110.0,318.3 L109.6,318.5 L109.1,318.5 L108.7,318.4 L108.2,318.0 L107.8,317.7 L107.3,317.4 L106.9,317.2 L106.4,317.3 L106.0,317.6 L105.5,317.9 L105.0,318.1 L104.6,318.3 L104.1,318.2 L103.7,317.9 L103.2,317.6 L102.8,317.3 L102.3,317.1 L101.9,317.1 L101.4,317.3 L100.9,317.6 L100.5,317.9 L100.0,318.1 L99.6,318.2 L99.2,318.0 L98.7,317.7 L98.2,317.4 L97.7,317.2 L97.3,317.2 L96.8,317.4 L96.4,317.7 L96.0,318.1 L95.6,318.5 L95.2,318.6 L94.7,318.6 L94.2,318.4 L93.7,318.2 L93.2,318.0 L92.7,317.9 L92.3,318.1 L91.9,318.4 L91.5,318.8 L91.1,319.2 L90.7,319.4 L90.2,319.5 L89.7,319.4 L89.2,319.1 L88.7,318.9 L88.2,318.8 L87.8,318.8 L87.4,319.1 L87.0,319.5 L86.6,319.9 L86.2,320.2 L85.7,320.3 L85.3,320.3 L84.8,320.1 L84.3,319.8 L83.8,319.7 L83.3,319.7 L82.9,319.9 L82.5,320.2 L82.1,320.7 L81.7,321.0 L81.3,321.3 L80.9,321.3 L80.4,321.2 L79.8,321.0 L79.3,320.8 L78.8,320.7 L78.4,320.9 L78.0,321.2 L77.7,321.6 L77.3,322.1 L77.0,322.4 L76.5,322.6 L76.0,322.5 L75.5,322.4 L75.0,322.2 L74.5,322.1 L74.0,322.2 L73.6,322.5 L73.3,322.9 L73.0,323.4 L72.6,323.8 L72.2,324.0 L71.7,324.0 L71.2,323.9 L70.7,323.7 L70.2,323.6 L69.7,323.7 L69.3,323.9 L68.9,324.1 L68.5,324.4 L68.1,324.6 L67.6,324.7 L67.2,324.8 L66.7,324.8 L66.3,324.9 L65.8,325.0 L65.4,325.0 L64.9,325.1 L64.5,325.2 L64.0,325.3 L63.6,325.4" fill="none" stroke="#000" stroke-width="1.5" stroke-linejoin="round" stroke-linecap="round"/>
<path d="M63.6,349.0 L63.6,348.5 L63.6,348.1 L63.6,347.6 L63.7,347.2 L63.7,346.7 L63.7,346.3 L63.7,345.8 L63.7,345.4 L63.8,344.9 L63.8,344.4 L63.8,344.0 L63.8,343.5 L63.8,343.1 L63.9,342.6 L63.9,342.2 L63.9,341.7 L63.9,341.3 L64.0,340.8 L64.0,340.4 L64.0,339.9 L64.0,339.4 L64.0,339.0 L64.1,338.5 L64.1,338.1 L64.1,337.6 L64.2,337.2 L64.2,336.7 L64.2,336.3 L64.2,335.8 L64.3,335.4 L64.3,334.9 L64.3,334.4 L64.3,334.0 L64.4,333.5 L64.4,333.1 L64.4,332.6 L64.5,332.2 L64.5,331.7 L64.5,331.3 L64.5,330.8 L64.6,330.4 L64.6,329.9 L64.6,329.4 L64.7,329.0 L64.7,328.5 L64.7,328.1 L64.8,327.6 L64.8,327.2 L64.8,326.7 L64.9,326.3 L64.9,325.8 L64.9,325.4 L65.0,324.9 L65.0,324.4 L65.0,324.0 L65.1,323.5 L65.1,323.1 L65.2,322.6 L65.2,322.2 L65.2,321.7 L65.3,321.3 L65.3,320.8 L65.4,320.4 L65.4,319.9 L65.4,319.5 L65.5,319.0 L65.5,318.5 L65.6,318.1 L65.6,317.6 L65.6,317.2 L65.7,316.7 L65.7,316.3 L65.8,315.8 L65.8,315.4 L65.9,314.9 L65.9,314.5 L66.0,314.0 L66.0,313.6 L66.1,313.1 L66.1,312.6 L66.2,312.2 L66.2,311.7 L66.3,311.3 L66.3,310.8 L66.4,310.4 L66.4,309.9 L66.5,309.5 L66.5,309.0 L66.6,308.6 L66.6,308.1 L66.7,307.7 L66.7,307.2 L66.8,306.8 L66.8,306.3 L66.9,305.9 L66.9,305.4 L67.0,305.0 L67.1,304.5 L67.1,304.1 L67.2,303.6 L67.2,303.2 L67.3,302.7 L67.4,302.3 L67.4,301.8 L67.5,301.3 L67.5,300.9 L67.6,300.4 L67.7,300.0 L67.7,299.5 L67.8,299.1 L67.9,298.6 L67.9,298.2 L68.0,297.7 L68.1,297.3 L68.1,296.8 L68.2,296.4 L68.3,295.9 L68.4,295.5 L68.4,295.0 L68.5,294.6 L68.6,294.1 L68.7,293.6 L68.7,293.2 L68.8,292.7 L68.9,292.3 L69.0,291.9 L69.1,291.4 L69.2,291.0 L69.3,290.5 L69.3,290.1 L69.4,289.6 L69.5,289.2 L69.6,288.7 L69.7,288.3 L69.8,287.8 L69.9,287.4 L70.0,287.0 L70.1,286.5 L70.2,286.1 L70.3,285.7 L70.4,285.2 L70.6,284.8 L70.7,284.4 L70.8,283.9 L70.9,283.5 L71.1,283.1 L71.2,282.6 L71.3,282.2 L71.5,281.8 L71.7,281.3 L71.8,280.9 L72.0,280.5 L72.1,280.1 L72.3,279.6 L72.5,279.2 L72.7,278.8 L72.9,278.4 L73.0,278.0 L73.2,277.5 L73.4,277.1 L73.6,276.7 L73.8,276.3 L74.0,275.9 L74.2,275.5 L74.4,275.0 L74.6,274.6 L74.8,274.2 L74.9,273.8 L75.1,273.4 L75.3,273.0 L75.5,272.5 L75.7,272.1 L75.9,271.7 L76.1,271.3 L76.3,270.9 L76.5,270.5 L76.7,270.0 L76.8,269.6 L77.0,269.2 L77.2,268.8 L77.4,268.4 L77.6,268.0 L77.8,267.6 L78.0,267.1 L78.2,266.7 L78.4,266.3 L78.6,265.9 L78.8,265.5 L79.0,265.1 L79.2,264.7 L79.4,264.2 L79.6,263.8 L79.8,263.4 L80.0,263.0 L80.2,262.6 L80.4,262.2 L80.6,261.8 L80.9,261.4 L81.1,261.0 L81.3,260.6 L81.5,260.3 L81.8,259.9 L82.0,259.5 L82.2,259.1 L82.5,258.7 L82.7,258.3 L83.0,257.9 L83.2,257.6 L83.5,257.2 L83.8,256.8 L84.0,256.4 L84.3,256.0 L84.6,255.6 L84.8,255.3 L85.1,254.9 L85.4,254.5 L85.7,254.2 L86.0,253.8 L86.3,253.5 L86.6,253.1 L86.9,252.8 L87.2,252.5 L87.5,252.2 L87.8,251.9 L88.1,251.6 L88.5,251.3 L88.8,251.0 L89.2,250.8 L89.5,250.5 L89.9,250.2 L90.3,250.0 L90.6,249.7 L91.0,249.4 L91.4,249.1 L91.8,248.9 L92.2,248.8 L92.7,248.7 L93.2,248.5 L93.6,248.3 L93.9,248.0 L94.2,247.6 L94.5,247.2 L94.9,246.8 L95.3,246.7 L95.8,246.6 L96.4,246.7 L96.9,246.7 L97.3,246.5 L97.6,246.2 L97.9,245.7 L98.2,245.2 L98.5,244.8 L98.9,244.6 L99.4,244.6 L99.9,244.7 L100.5,244.7 L100.9,244.7 L101.3,244.4 L101.6,244.0 L101.9,243.5 L102.2,243.1 L102.6,242.8 L103.0,242.7 L103.5,242.7 L104.1,242.8 L104.6,242.8 L105.0,242.7 L105.4,242.4 L105.7,241.9 L105.9,241.4 L106.3,241.0 L106.7,240.9 L107.2,240.9 L107.7,241.0 L108.3,241.0 L108.7,241.0 L109.1,240.7 L109.4,240.3 L109.7,239.8 L110.0,239.4 L110.4,239.1 L110.9,239.0 L111.4,239.1 L112.0,239.2 L112.5,239.2 L112.9,239.1 L113.2,238.7 L113.5,238.3 L113.8,237.8 L114.2,237.5 L114.6,237.3 L115.1,237.3 L115.7,237.5 L116.2,237.5 L116.6,237.5 L117.0,237.2 L117.3,236.8 L117.6,236.3 L118.0,235.9 L118.4,235.7 L118.9,235.7 L119.4,235.8 L119.9,235.9 L120.4,235.9 L120.9,235.8 L121.2,235.4 L121.5,235.0 L121.8,234.5 L122.2,234.2 L122.7,234.1 L123.2,234.2 L123.7,234.3 L124.2,234.4 L124.7,234.3 L125.1,234.0 L125.4,233.6 L125.7,233.1 L126.0,232.7 L126.4,232.5 L126.9,232.5 L127.4,232.6 L128.0,232.7 L128.5,232.7 L128.9,232.5 L129.2,232.1 L129.5,231.6 L129.8,231.2 L130.2,230.9 L130.6,230.8 L131.2,230.8 L131.7,230.9 L132.2,230.9 L132.7,230.8 L133.0,230.5 L133.3,230.0 L133.6,229.5 L133.9,229.1 L134.3,228.9 L134.8,228.9 L135.3,228.9 L135.9,229.0 L136.3,228.9 L136.7,228.6 L136.9,228.2 L137.1,227.6 L137.4,227.2 L137.7,226.8 L138.1,226.7 L138.6,226.6 L139.2,226.6 L139.7,226.5 L140.1,226.3 L140.3,225.8 L140.5,225.3 L140.7,224.8 L140.9,224.4 L141.3,224.1 L141.7,223.9 L142.3,223.9 L142.8,223.8 L143.3,223.6 L143.6,223.2 L143.7,222.7 L143.9,222.2 L144.0,221.7 L144.3,221.3 L144.8,221.1 L145.3,221.0 L145.8,221.0 L146.3,220.8 L146.7,220.5 L146.9,220.1 L147.0,219.6 L147.1,219.0 L147.4,218.6 L147.7,218.3 L148.2,218.2 L148.8,218.1 L149.3,218.0 L149.7,217.7 L149.9,217.3 L150.1,216.8 L150.2,216.3 L150.3,215.8 L150.6,215.4 L151.0,215.2 L151.5,215.1 L152.1,214.9 L152.5,214.8 L152.9,214.4 L153.0,213.9 L153.1,213.4 L153.2,212.9 L153.4,212.4 L153.8,212.1 L154.2,212.0 L154.8,211.9 L155.3,211.7 L155.7,211.4 L155.9,211.0 L156.0,210.5 L156.0,209.9 L156.2,209.4 L156.5,209.1 L156.9,208.8 L157.4,208.7 L157.9,208.5 L158.4,208.3 L158.6,207.9 L158.8,207.4 L158.8,206.9 L158.9,206.3 L159.0,205.9 L159.4,205.6 L159.9,205.4 L160.4,205.3 L160.9,205.0 L161.2,204.7 L161.3,204.2 L161.3,203.7 L161.3,203.1 L161.4,202.6 L161.6,202.3 L162.1,202.0 L162.6,201.8 L163.1,201.5 L163.4,201.2 L163.6,200.8 L163.7,200.3 L163.6,199.7 L163.7,199.2 L163.8,198.8 L164.2,198.4 L164.7,198.2 L165.2,198.0 L165.6,197.8 L165.9,197.4 L166.0,197.0 L166.1,196.4 L166.1,195.9 L166.2,195.4 L166.5,195.1 L167.0,194.8 L167.5,194.7 L168.0,194.5 L168.4,194.2 L168.6,193.8 L168.7,193.3 L168.8,192.7 L168.9,192.2 L169.1,191.8 L169.5,191.5 L170.0,191.4 L170.6,191.2 L171.0,191.0 L171.4,190.7 L171.5,190.2 L171.6,189.7 L171.7,189.2 L171.9,188.7 L172.3,188.4 L172.8,188.3 L173.3,188.2 L173.8,188.1 L174.2,187.9 L174.5,187.6 L174.7,187.1 L174.8,186.5 L175.0,186.1 L175.4,185.7 L175.8,185.6 L176.4,185.5 L177.0,185.5 L177.4,185.4 L177.8,185.1 L178.1,184.7 L178.3,184.2 L178.5,183.7 L178.9,183.3 L179.3,183.1 L179.8,183.1 L180.4,183.2 L180.9,183.2 L181.3,183.1 L181.7,182.8 L182.0,182.4 L182.3,181.9 L182.6,181.6 L183.0,181.4 L183.5,181.4 L184.0,181.6 L184.6,181.7 L185.1,181.7 L185.5,181.5 L185.9,181.2 L186.2,180.7 L186.6,180.3 L187.0,180.1 L187.5,180.1 L188.0,180.3 L188.5,180.5 L189.0,180.7 L189.4,180.7 L189.9,180.5 L190.3,180.2 L190.7,179.9 L191.2,179.7 L191.6,179.7 L192.1,179.9 L192.6,180.2 L193.0,180.5 L193.5,180.6 L193.9,180.5 L194.4,180.3 L194.8,179.9 L195.3,179.7 L195.7,179.6 L196.2,179.7 L196.7,180.0 L197.1,180.3 L197.6,180.5 L198.0,180.5 L198.5,180.3 L199.0,180.0 L199.4,179.7 L199.9,179.5 L200.3,179.5 L200.8,179.7 L201.2,180.1 L201.7,180.3 L202.2,180.4 L202.6,180.3 L203.1,180.1 L203.5,179.7 L203.9,179.4 L204.4,179.4 L204.9,179.5 L205.3,179.8 L205.8,180.1 L206.3,180.3 L206.7,180.2 L207.2,180.0 L207.6,179.7 L208.0,179.4 L208.5,179.2 L208.9,179.2 L209.4,179.4 L209.9,179.7 L210.4,180.0 L210.8,180.1 L211.3,179.9 L211.7,179.6 L212.1,179.3 L212.6,179.0 L213.0,178.9 L213.5,179.1 L214.0,179.3 L214.5,179.6 L214.9,179.8 L215.4,179.7 L215.8,179.5 L216.2,179.1 L216.7,178.8 L217.1,178.6 L217.6,178.6 L218.0,178.8 L218.5,179.1 L219.0,179.3 L219.5,179.4 L219.9,179.2 L220.3,178.8 L220.7,178.5 L221.2,178.2 L221.6,178.1 L222.1,178.2 L222.6,178.5 L223.1,178.7 L223.6,178.8 L224.0,178.7 L224.4,178.4 L224.8,178.0 L225.2,177.6 L225.7,177.5 L226.1,177.5 L226.6,177.7 L227.1,177.9 L227.6,178.0 L228.1,178.0 L228.5,177.7 L228.9,177.3 L229.2,176.9 L229.6,176.6 L230.0,176.5 L230.5,176.6 L231.0,176.8 L231.6,176.9 L232.1,176.9 L232.5,176.7 L232.8,176.3 L233.1,175.8 L233.4,175.4 L233.8,175.1 L234.3,175.0 L234.8,175.1 L235.4,175.2 L235.9,175.2 L236.3,175.0 L236.7,174.6 L236.9,174.1 L237.2,173.6 L237.5,173.2 L237.9,173.0 L238.4,173.0 L239.0,173.1 L239.5,173.1 L239.9,172.9 L240.3,172.6 L240.5,172.1 L240.7,171.6 L240.9,171.2 L241.3,170.9 L241.7,170.7 L242.2,170.7 L242.8,170.7 L243.3,170.5 L243.7,170.2 L243.9,169.8 L244.0,169.2 L244.2,168.7 L244.4,168.3 L244.8,168.0 L245.3,167.9 L245.9,167.8 L246.4,167.7 L246.8,167.4 L247.0,167.0 L247.2,166.5 L247.2,166.0 L247.4,165.5 L247.7,165.1 L248.1,164.9 L248.6,164.8 L249.2,164.7 L249.6,164.5 L249.9,164.1 L250.0,163.6 L250.1,163.1 L250.2,162.5 L250.4,162.1 L250.7,161.8 L251.2,161.6 L251.8,161.5 L252.2,161.3 L252.6,160.9 L252.8,160.5 L252.8,159.9 L252.8,159.4 L252.9,158.9 L253.2,158.5 L253.6,158.2 L254.1,158.0 L254.6,157.8 L255.0,157.5 L255.2,157.1 L255.2,156.6 L255.3,156.1 L255.3,155.6 L255.5,155.2 L255.8,154.8 L256.2,154.5 L256.6,154.2 L256.9,153.9 L257.1,153.5 L257.2,153.1 L257.3,152.6 L257.4,152.1 L257.5,151.7 L257.7,151.3 L258.0,150.9 L258.3,150.5 L258.6,150.2 L258.8,149.8 L258.9,149.3 L259.1,148.9 L259.2,148.4 L259.4,148.0 L259.5,147.6 L259.7,147.2 L259.9,146.8 L260.1,146.3 L260.3,145.9 L260.4,145.5 L260.6,145.0 L260.8,144.6 L260.9,144.2 L261.1,143.8 L261.3,143.3 L261.4,142.9 L261.6,142.5 L261.8,142.1 L261.9,141.6 L262.1,141.2 L262.3,140.8 L262.4,140.4 L262.6,139.9 L262.8,139.5 L262.9,139.1 L263.1,138.7 L263.2,138.2 L263.4,137.8 L263.5,137.4 L263.7,136.9 L263.8,136.5 L264.0,136.1 L264.1,135.7 L264.3,135.2 L264.4,134.8 L264.6,134.4 L264.7,133.9 L264.8,133.5 L265.0,133.1 L265.1,132.6 L265.3,132.2 L265.4,131.8 L265.5,131.3 L265.7,130.9 L265.8,130.4 L265.9,130.0 L266.0,129.6 L266.2,129.1 L266.3,128.7 L266.4,128.3 L266.5,127.8 L266.7,127.4 L266.8,126.9 L266.9,126.5 L266.9,127.0 L267.0,127.4 L267.0,127.9 L267.1,128.3 L267.1,128.8 L267.2,129.2 L267.2,129.7 L267.2,130.1 L267.3,130.6 L267.3,131.0 L267.4,131.5 L267.4,132.0 L267.4,132.4 L267.5,132.9 L267.5,133.3 L267.5,133.8 L267.5,134.2 L267.6,134.7 L267.6,135.1 L267.6,135.6 L267.6,136.0 L267.6,136.5 L267.6,137.0 L267.6,137.4 L267.6,137.9 L267.6,138.3 L267.6,138.8 L267.6,139.2 L267.6,139.7 L267.6,140.1 L267.6,140.6 L267.6,141.0 L267.6,141.5 L267.6,142.0 L267.6,142.4 L267.6,142.9 L267.5,143.3 L267.5,143.8 L267.5,144.2 L267.5,144.7 L267.5,145.1 L267.5,145.6 L267.5,146.1 L267.5,146.5 L267.5,147.0 L267.5,147.4 L267.4,147.9 L267.4,148.3 L267.4,148.8 L267.4,149.2 L267.4,149.7 L267.4,150.2 L267.4,150.6 L267.4,151.1 L267.3,151.5 L267.3,152.0 L267.3,152.4 L267.3,152.9 L267.3,153.3 L267.3,153.8 L267.3,154.3 L267.2,154.7 L267.2,155.2 L267.2,155.6 L267.2,156.1 L267.2,156.5 L267.2,157.0 L267.1,157.4 L267.1,157.9 L267.1,158.3 L267.1,158.8 L267.0,159.3 L267.0,159.7 L267.0,160.2 L267.0,160.6 L266.9,161.1 L266.9,161.5 L266.9,162.0 L266.8,162.4 L266.8,162.9 L266.8,163.3 L266.7,163.8 L266.7,164.2 L266.6,164.7 L266.6,165.2 L266.6,165.6 L266.5,166.1 L266.5,166.5 L266.4,167.0 L266.4,167.4 L266.3,167.9 L266.3,168.3 L266.2,168.8 L266.2,169.2 L266.1,169.7 L266.1,170.1 L266.0,170.6 L266.0,171.0 L265.9,171.5 L265.9,172.0 L265.8,172.4 L265.8,172.9 L265.7,173.3 L265.7,173.8 L265.6,174.2 L265.6,174.7 L265.5,175.1 L265.5,175.6 L265.4,176.0 L265.4,176.5 L265.3,176.9 L265.3,177.4 L265.2,177.8 L265.2,178.3 L265.1,178.8 L265.1,179.2 L265.0,179.7 L265.0,180.1 L264.9,180.6 L264.9,181.0 L264.8,181.5 L264.8,181.9 L264.7,182.4 L264.7,182.8 L264.6,183.3 L264.6,183.7 L264.5,184.2 L264.5,184.6 L264.4,185.1 L264.4,185.5 L264.3,186.0 L264.3,186.4 L264.2,186.9 L264.2,187.3 L264.1,187.8 L264.1,188.3 L264.0,188.7 L264.0,189.2 L263.9,189.6 L263.9,190.1 L263.8,190.5 L263.8,191.0 L263.7,191.4 L263.6,191.9 L263.6,192.3 L263.5,192.8 L263.5,193.2 L263.4,193.7 L263.4,194.1 L263.3,194.6 L263.3,195.0 L263.2,195.5 L263.1,195.9 L263.1,196.4 L263.0,196.8 L263.0,197.3 L262.9,197.7 L262.8,198.2 L262.8,198.7 L262.7,199.1 L262.7,199.6 L262.6,200.0 L262.5,200.5 L262.5,200.9 L262.4,201.4 L262.4,201.8 L262.3,202.3 L262.2,202.7 L262.2,203.2 L262.1,203.6 L262.1,204.1 L262.0,204.5 L261.9,205.0 L261.9,205.4 L261.8,205.9 L261.7,206.3 L261.7,206.8 L261.6,207.2 L261.5,207.7 L261.5,208.1 L261.4,208.6 L261.3,209.0 L261.3,209.5 L261.2,209.9 L261.1,210.4 L261.1,210.8 L261.0,211.3 L260.9,211.7 L260.9,212.2 L260.8,212.6 L260.7,213.1 L260.7,213.5 L260.6,214.0 L260.5,214.4 L260.5,214.9 L260.4,215.3 L260.3,215.8 L260.2,216.2 L260.2,216.7 L260.1,217.1 L260.0,217.6 L259.9,218.0 L259.9,218.5 L259.8,218.9 L259.7,219.4 L259.6,219.8 L259.5,220.3 L259.4,220.7 L259.4,221.2 L259.3,221.6 L259.2,222.1 L259.1,222.5 L259.0,223.0 L258.9,223.4 L258.8,223.8 L258.7,224.3 L258.6,224.7 L258.5,225.2 L258.4,225.6 L258.3,226.1 L258.2,226.5 L258.1,226.9 L258.0,227.4 L257.9,227.8 L257.8,228.3 L257.7,228.7 L257.6,229.2 L257.4,229.6 L257.3,230.0 L257.2,230.5 L257.1,230.9 L256.9,231.3 L256.8,231.8 L256.7,232.2 L256.6,232.7 L256.4,233.1 L256.3,233.5 L256.2,234.0 L256.1,234.4 L255.9,234.9 L255.8,235.3 L255.7,235.7 L255.6,236.2 L255.4,236.6 L255.3,237.0 L255.2,237.5 L255.0,237.9 L254.9,238.3 L254.8,238.8 L254.6,239.2 L254.5,239.7 L254.4,240.1 L254.3,240.5 L254.1,241.0 L254.0,241.4 L253.9,241.8 L253.7,242.3 L253.6,242.7 L253.4,243.1 L253.3,243.6 L253.2,244.0 L253.0,244.5 L252.9,244.9 L252.8,245.3 L252.6,245.8 L252.5,246.2 L252.3,246.6 L252.2,247.1 L252.1,247.5 L251.9,247.9 L251.7,248.4 L251.6,248.8 L251.4,249.2 L251.3,249.6 L251.2,250.1 L251.1,250.5 L251.0,251.0 L250.9,251.4 L250.7,251.8 L250.5,252.2 L250.2,252.6 L249.9,253.0 L249.7,253.4 L249.6,253.9 L249.5,254.3 L249.5,254.8 L249.5,255.3 L249.4,255.7 L249.3,256.2 L249.0,256.5 L248.6,256.9 L248.2,257.2 L247.9,257.6 L247.8,258.0 L247.7,258.5 L247.8,259.0 L247.9,259.6 L247.9,260.1 L247.8,260.5 L247.4,260.9 L247.0,261.2 L246.5,261.5 L246.1,261.8 L245.8,262.2 L245.7,262.7 L245.8,263.2 L246.0,263.8 L246.1,264.4 L246.0,264.8 L245.7,265.2 L245.2,265.5 L244.6,265.7 L244.1,265.9 L243.8,266.2 L243.6,266.7 L243.7,267.2 L243.8,267.8 L243.8,268.3 L243.8,268.8 L243.5,269.2 L243.0,269.4 L242.5,269.5 L241.9,269.6 L241.4,269.8 L241.1,270.1 L241.0,270.6 L240.9,271.2 L240.9,271.8 L240.8,272.3 L240.5,272.7 L240.0,272.9 L239.5,273.0 L238.8,273.0 L238.3,273.1 L237.9,273.3 L237.6,273.7 L237.5,274.3 L237.4,274.9 L237.3,275.4 L237.1,275.9 L236.7,276.1 L236.2,276.2 L235.6,276.2 L235.0,276.3 L234.5,276.5 L234.2,276.8 L234.1,277.3 L234.0,277.9 L233.9,278.5 L233.8,279.0 L233.4,279.3 L233.0,279.4 L232.4,279.5 L231.8,279.5 L231.2,279.6 L230.9,279.9 L230.7,280.3 L230.5,280.9 L230.5,281.5 L230.3,282.0 L230.1,282.4 L229.6,282.6 L229.1,282.6 L228.5,282.6 L227.9,282.7 L227.5,282.9 L227.2,283.2 L227.0,283.8 L226.9,284.3 L226.8,284.9 L226.6,285.4 L226.2,285.6 L225.7,285.7 L225.1,285.7 L224.5,285.7 L224.0,285.8 L223.7,286.1 L223.5,286.6 L223.4,287.2 L223.3,287.8 L223.1,288.3 L222.8,288.6 L222.3,288.7 L221.7,288.8 L221.1,288.8 L220.6,288.8 L220.2,289.0 L219.9,289.4 L219.8,290.0 L219.7,290.6 L219.5,291.1 L219.3,291.5 L218.8,291.7 L218.3,291.8 L217.7,291.7 L217.1,291.7 L216.6,291.9 L216.3,292.2 L216.1,292.7 L216.0,293.3 L215.9,293.9 L215.6,294.3 L215.3,294.6 L214.8,294.7 L214.2,294.6 L213.6,294.6 L213.1,294.7 L212.7,294.9 L212.4,295.3 L212.2,295.9 L212.1,296.4 L211.9,296.9 L211.5,297.3 L211.1,297.4 L210.5,297.3 L209.9,297.2 L209.3,297.2 L208.9,297.3 L208.5,297.7 L208.3,298.2 L208.1,298.8 L208.0,299.3 L207.7,299.7 L207.3,299.9 L206.8,299.9 L206.2,299.9 L205.6,299.9 L205.1,300.0 L204.7,300.3 L204.5,300.7 L204.4,301.3 L204.3,301.9 L204.1,302.4 L203.8,302.7 L203.4,302.9 L202.8,302.9 L202.2,302.9 L201.6,303.0 L201.2,303.3 L201.0,303.7 L200.9,304.3 L200.9,304.9 L200.8,305.5 L200.6,305.9 L200.2,306.1 L199.7,306.2 L199.1,306.3 L198.5,306.4 L198.1,306.6 L197.8,307.0 L197.7,307.5 L197.7,308.1 L197.7,308.7 L197.6,309.2 L197.3,309.5 L196.8,309.7 L196.2,309.8 L195.6,309.9 L195.1,310.1 L194.8,310.5 L194.7,311.0 L194.7,311.5 L194.7,312.1 L194.7,312.7 L194.4,313.1 L194.0,313.3 L193.5,313.5 L192.9,313.6 L192.3,313.8 L192.0,314.0 L191.8,314.5 L191.7,315.0 L191.8,315.6 L191.7,316.2 L191.6,316.7 L191.2,317.0 L190.7,317.1 L190.1,317.2 L189.5,317.3 L189.1,317.6 L188.8,317.9 L188.7,318.4 L188.7,319.0 L188.7,319.6 L188.6,320.1 L188.3,320.5 L187.9,320.7 L187.3,320.8 L186.7,320.9 L186.2,321.1 L185.9,321.4 L185.7,321.9 L185.7,322.4 L185.7,323.0 L185.6,323.6 L185.4,324.0 L185.0,324.3 L184.5,324.4 L183.9,324.5 L183.3,324.6 L182.9,324.9 L182.7,325.3 L182.6,325.8 L182.6,326.4 L182.6,327.0 L182.4,327.4 L182.0,327.8 L181.5,327.9 L181.0,328.0 L180.4,328.0 L179.9,328.2 L179.6,328.5 L179.4,329.0 L179.3,329.6 L179.3,330.2 L179.1,330.7 L178.8,331.0 L178.4,331.2 L177.8,331.3 L177.2,331.3 L176.7,331.3 L176.3,331.6 L176.0,332.0 L175.9,332.5 L175.8,333.1 L175.7,333.7 L175.4,334.1 L175.0,334.3 L174.5,334.4 L173.9,334.4 L173.3,334.5 L172.9,334.7 L172.6,335.0 L172.4,335.5 L172.4,336.1 L172.3,336.7 L172.2,337.2 L171.8,337.5 L171.3,337.7 L170.8,337.8 L170.2,337.8 L169.6,337.9 L169.3,338.2 L169.1,338.7 L169.0,339.2 L169.0,339.9 L168.8,340.4 L168.5,340.8 L168.1,341.0 L167.5,341.0 L166.9,341.0 L166.4,341.0 L166.0,341.2 L165.7,341.5 L165.5,342.0 L165.4,342.6 L165.2,343.2 L164.9,343.6 L164.5,343.8 L164.0,343.9 L163.4,343.8 L162.8,343.7 L162.3,343.8 L161.9,344.1 L161.7,344.5 L161.5,345.1 L161.3,345.6 L161.0,346.1 L160.7,346.4 L160.2,346.4 L159.6,346.4 L159.0,346.2 L158.4,346.2 L158.0,346.3 L157.7,346.7 L157.4,347.2 L157.2,347.7 L156.9,348.2 L156.5,348.5 L156.1,348.6 L155.5,348.5 L155.0,348.3 L154.4,348.2 L153.9,348.2 L153.5,348.4 L153.2,348.9 L152.9,349.4 L152.6,350.0 L152.2,350.3 L151.8,350.5 L151.3,350.4 L150.7,350.2 L150.2,349.9 L149.7,349.8 L149.3,349.8 L148.9,350.1 L148.5,350.5 L148.1,350.9 L147.6,351.2 L147.1,351.2 L146.6,351.0 L146.3,350.6 L145.9,350.1 L145.5,349.6 L145.2,349.4 L144.7,349.4 L144.1,349.5 L143.6,349.7 L143.0,349.9 L142.5,349.9 L142.1,349.7 L141.8,349.3 L141.5,348.7 L141.2,348.2 L140.9,347.9 L140.5,347.7 L140.0,347.7 L139.4,347.9 L138.8,348.0 L138.3,348.0 L137.9,347.8 L137.6,347.4 L137.3,346.9 L137.1,346.3 L136.9,345.9 L136.5,345.6 L136.0,345.5 L135.4,345.6 L134.9,345.7 L134.3,345.8 L133.9,345.7 L133.5,345.4 L133.2,344.9 L133.0,344.3 L132.8,343.8 L132.4,343.4 L132.0,343.3 L131.5,343.4 L130.9,343.5 L130.3,343.6 L129.8,343.6 L129.4,343.3 L129.1,342.9 L128.9,342.3 L128.7,341.8 L128.4,341.4 L127.9,341.2 L127.4,341.2 L126.9,341.3 L126.3,341.5 L125.8,341.6 L125.3,341.4 L125.0,341.1 L124.7,340.6 L124.4,340.0 L124.2,339.6 L123.8,339.3 L123.3,339.2 L122.7,339.3 L122.2,339.5 L121.6,339.6 L121.1,339.6 L120.7,339.4 L120.4,338.9 L120.1,338.4 L119.8,337.9 L119.4,337.6 L118.9,337.5 L118.4,337.7 L117.9,338.0 L117.4,338.3 L116.9,338.5 L116.5,338.4 L116.1,338.1 L115.7,337.7 L115.3,337.2 L114.9,336.9 L114.4,336.8 L113.9,336.9 L113.4,337.2 L112.9,337.6 L112.5,337.8 L112.0,337.9 L111.5,337.7 L111.1,337.3 L110.7,336.9 L110.2,336.5 L109.8,336.4 L109.3,336.4 L108.9,336.7 L108.4,337.1 L107.9,337.5 L107.5,337.7 L107.0,337.6 L106.6,337.4 L106.1,337.0 L105.6,336.6 L105.2,336.4 L104.7,336.4 L104.3,336.7 L103.8,337.1 L103.4,337.5 L103.0,337.8 L102.5,337.9 L102.1,337.7 L101.6,337.4 L101.1,337.0 L100.6,336.8 L100.2,336.7 L99.7,336.9 L99.3,337.3 L98.9,337.7 L98.5,338.1 L98.0,338.3 L97.6,338.2 L97.1,338.0 L96.6,337.6 L96.1,337.4 L95.6,337.3 L95.1,337.4 L94.7,337.7 L94.3,338.2 L94.0,338.7 L93.6,338.9 L93.1,339.0 L92.6,338.9 L92.1,338.6 L91.6,338.3 L91.1,338.1 L90.6,338.2 L90.2,338.5 L89.8,338.9 L89.5,339.4 L89.1,339.8 L88.7,340.0 L88.2,339.9 L87.7,339.7 L87.2,339.5 L86.6,339.3 L86.2,339.3 L85.7,339.5 L85.4,339.9 L85.1,340.5 L84.7,340.9 L84.4,341.2 L83.9,341.3 L83.4,341.2 L82.8,341.0 L82.3,340.8 L81.8,340.7 L81.4,340.9 L81.0,341.2 L80.7,341.8 L80.4,342.3 L80.0,342.7 L79.6,342.8 L79.1,342.8 L78.6,342.6 L78.0,342.4 L77.5,342.3 L77.0,342.4 L76.7,342.7 L76.4,343.2 L76.1,343.7 L75.8,344.2 L75.4,344.4 L74.9,344.5 L74.4,344.4 L73.8,344.2 L73.3,344.0 L72.8,344.1 L72.4,344.3 L72.1,344.7 L71.8,345.3 L71.5,345.8 L71.2,346.1 L70.7,346.2 L70.2,346.2 L69.7,346.1 L69.2,346.1 L68.7,346.2 L68.3,346.5 L68.0,346.8 L67.6,347.1 L67.3,347.4 L66.9,347.6 L66.4,347.8 L66.0,347.9 L65.6,348.1 L65.2,348.4 L64.8,348.6 L64.4,348.8 L64.0,349.0" fill="none" stroke="#000" stroke-width="1.5" stroke-linejoin="round" stroke-linecap="round"/>
<path d="M63.8,371.0 L63.8,370.5 L63.8,370.1 L63.8,369.6 L63.9,369.2 L63.9,368.7 L63.9,368.3 L63.9,367.8 L63.9,367.4 L63.9,366.9 L63.9,366.4 L64.0,366.0 L64.0,365.5 L64.0,365.1 L64.0,364.6 L64.0,364.2 L64.0,363.7 L64.0,363.3 L64.1,362.8 L64.1,362.3 L64.1,361.9 L64.1,361.4 L64.1,361.0 L64.1,360.5 L64.2,360.1 L64.2,359.6 L64.2,359.2 L64.2,358.7 L64.2,358.3 L64.3,357.8 L64.3,357.3 L64.3,356.9 L64.3,356.4 L64.3,356.0 L64.4,355.5 L64.4,355.1 L64.4,354.6 L64.4,354.2 L64.4,353.7 L64.5,353.2 L64.5,352.8 L64.5,352.3 L64.5,351.9 L64.5,351.4 L64.6,351.0 L64.6,350.5 L64.6,350.1 L64.6,349.6 L64.6,349.2 L64.7,348.7 L64.7,348.2 L64.7,347.8 L64.7,347.3 L64.8,346.9 L64.8,346.4 L64.8,346.0 L64.8,345.5 L64.8,345.1 L64.9,344.6 L64.9,344.1 L64.9,343.7 L64.9,343.2 L65.0,342.8 L65.0,342.3 L65.0,341.9 L65.0,341.4 L65.1,341.0 L65.1,340.5 L65.1,340.1 L65.1,339.6 L65.2,339.1 L65.2,338.7 L65.2,338.2 L65.3,337.8 L65.3,337.3 L65.3,336.9 L65.3,336.4 L65.4,336.0 L65.4,335.5 L65.4,335.1 L65.5,334.6 L65.5,334.1 L65.5,333.7 L65.6,333.2 L65.6,332.8 L65.6,332.3 L65.7,331.9 L65.7,331.4 L65.7,331.0 L65.8,330.5 L65.8,330.1 L65.8,329.6 L65.9,329.1 L65.9,328.7 L65.9,328.2 L66.0,327.8 L66.0,327.3 L66.1,326.9 L66.1,326.4 L66.1,326.0 L66.2,325.5 L66.2,325.1 L66.3,324.6 L66.3,324.2 L66.4,323.7 L66.4,323.3 L66.4,322.8 L66.5,322.3 L66.5,321.9 L66.6,321.4 L66.6,321.0 L66.7,320.5 L66.7,320.1 L66.8,319.6 L66.8,319.2 L66.9,318.7 L66.9,318.3 L67.0,317.8 L67.0,317.4 L67.1,316.9 L67.1,316.5 L67.2,316.0 L67.3,315.6 L67.3,315.1 L67.4,314.6 L67.4,314.2 L67.5,313.7 L67.5,313.3 L67.6,312.8 L67.6,312.4 L67.7,311.9 L67.8,311.5 L67.8,311.0 L67.9,310.6 L67.9,310.1 L68.0,309.7 L68.0,309.2 L68.1,308.8 L68.2,308.3 L68.2,307.9 L68.3,307.4 L68.3,307.0 L68.4,306.5 L68.5,306.1 L68.5,305.6 L68.6,305.2 L68.6,304.7 L68.7,304.3 L68.8,303.8 L68.8,303.4 L68.9,302.9 L68.9,302.4 L69.0,302.0 L69.1,301.5 L69.1,301.1 L69.2,300.6 L69.2,300.2 L69.3,299.7 L69.4,299.3 L69.4,298.8 L69.5,298.4 L69.6,297.9 L69.6,297.5 L69.7,297.0 L69.8,296.6 L69.8,296.1 L69.9,295.7 L70.0,295.2 L70.0,294.8 L70.1,294.3 L70.2,293.9 L70.2,293.4 L70.3,293.0 L70.4,292.5 L70.5,292.1 L70.5,291.6 L70.6,291.2 L70.7,290.7 L70.8,290.3 L70.9,289.8 L70.9,289.4 L71.0,288.9 L71.1,288.5 L71.2,288.0 L71.3,287.6 L71.4,287.1 L71.4,286.7 L71.5,286.2 L71.6,285.8 L71.7,285.4 L71.8,284.9 L71.9,284.5 L72.0,284.0 L72.1,283.6 L72.2,283.2 L72.3,282.7 L72.5,282.3 L72.6,281.8 L72.7,281.4 L72.8,281.0 L72.9,280.5 L73.1,280.1 L73.2,279.6 L73.3,279.2 L73.5,278.8 L73.6,278.3 L73.7,277.9 L73.9,277.5 L74.0,277.0 L74.2,276.6 L74.3,276.2 L74.5,275.7 L74.6,275.3 L74.8,274.9 L74.9,274.4 L75.1,274.0 L75.2,273.6 L75.4,273.1 L75.5,272.7 L75.7,272.3 L75.9,271.9 L76.0,271.4 L76.2,271.0 L76.3,270.6 L76.5,270.2 L76.7,269.7 L76.8,269.3 L77.0,268.9 L77.2,268.5 L77.4,268.1 L77.6,267.6 L77.7,267.2 L77.9,266.8 L78.1,266.4 L78.3,266.0 L78.5,265.6 L78.7,265.1 L78.9,264.7 L79.1,264.3 L79.3,263.9 L79.5,263.5 L79.7,263.1 L79.9,262.7 L80.1,262.3 L80.3,261.9 L80.5,261.4 L80.7,261.0 L80.9,260.6 L81.1,260.2 L81.3,259.8 L81.5,259.4 L81.7,259.0 L81.9,258.6 L82.2,258.2 L82.4,257.8 L82.6,257.4 L82.8,257.0 L83.0,256.6 L83.2,256.2 L83.4,255.8 L83.7,255.4 L83.9,255.0 L84.1,254.6 L84.3,254.2 L84.6,253.8 L84.8,253.4 L85.0,253.0 L85.3,252.6 L85.5,252.2 L85.8,251.8 L86.0,251.4 L86.3,251.0 L86.5,250.7 L86.8,250.3 L87.0,249.9 L87.3,249.6 L87.6,249.2 L87.9,248.9 L88.1,248.5 L88.4,248.2 L88.7,247.9 L89.0,247.5 L89.3,247.2 L89.7,246.9 L90.0,246.6 L90.3,246.3 L90.6,245.9 L90.9,245.6 L91.3,245.3 L91.6,245.0 L92.1,244.8 L92.5,244.6 L92.9,244.3 L93.3,244.0 L93.6,243.7 L93.8,243.2 L94.1,242.8 L94.4,242.4 L94.8,242.2 L95.2,242.1 L95.8,242.1 L96.3,242.0 L96.7,241.8 L97.0,241.4 L97.2,241.0 L97.4,240.4 L97.7,240.0 L98.0,239.7 L98.5,239.6 L99.0,239.6 L99.6,239.6 L100.1,239.6 L100.5,239.3 L100.8,239.0 L101.0,238.5 L101.3,238.0 L101.6,237.6 L102.0,237.4 L102.5,237.4 L103.1,237.4 L103.6,237.4 L104.1,237.3 L104.4,237.1 L104.7,236.6 L105.0,236.1 L105.2,235.7 L105.6,235.4 L106.0,235.2 L106.6,235.2 L107.1,235.3 L107.6,235.3 L108.1,235.2 L108.4,234.9 L108.7,234.4 L108.9,233.9 L109.3,233.5 L109.7,233.3 L110.1,233.2 L110.7,233.3 L111.2,233.4 L111.7,233.4 L112.1,233.2 L112.5,232.8 L112.7,232.3 L113.0,231.8 L113.3,231.5 L113.8,231.3 L114.3,231.3 L114.8,231.4 L115.4,231.4 L115.8,231.4 L116.2,231.1 L116.5,230.7 L116.7,230.2 L117.0,229.7 L117.4,229.4 L117.8,229.3 L118.3,229.3 L118.9,229.4 L119.4,229.4 L119.8,229.2 L120.2,228.9 L120.4,228.4 L120.7,227.9 L121.0,227.5 L121.4,227.2 L121.8,227.2 L122.4,227.2 L122.9,227.3 L123.4,227.2 L123.8,227.0 L124.1,226.6 L124.4,226.1 L124.6,225.6 L124.9,225.2 L125.4,225.0 L125.9,225.0 L126.4,225.1 L126.9,225.1 L127.4,225.0 L127.8,224.7 L128.1,224.3 L128.3,223.8 L128.6,223.3 L129.0,223.0 L129.4,222.9 L130.0,222.9 L130.5,223.0 L131.0,222.9 L131.5,222.8 L131.8,222.4 L132.0,221.9 L132.2,221.4 L132.5,221.0 L132.9,220.7 L133.3,220.6 L133.8,220.6 L134.4,220.6 L134.8,220.4 L135.2,220.1 L135.4,219.7 L135.5,219.1 L135.6,218.6 L135.8,218.2 L136.2,217.9 L136.6,217.7 L137.2,217.6 L137.7,217.5 L138.1,217.2 L138.3,216.8 L138.5,216.3 L138.5,215.7 L138.6,215.2 L138.8,214.8 L139.2,214.5 L139.7,214.3 L140.3,214.2 L140.8,214.0 L141.1,213.7 L141.3,213.3 L141.4,212.7 L141.5,212.2 L141.7,211.7 L142.0,211.4 L142.4,211.1 L142.9,211.0 L143.5,210.9 L143.9,210.8 L144.3,210.4 L144.5,210.0 L144.6,209.4 L144.7,208.9 L145.0,208.5 L145.3,208.2 L145.8,208.1 L146.4,208.0 L146.9,207.9 L147.3,207.6 L147.6,207.2 L147.7,206.7 L147.8,206.2 L147.9,205.7 L148.1,205.3 L148.5,205.0 L149.0,204.9 L149.5,204.7 L149.9,204.5 L150.3,204.1 L150.4,203.7 L150.4,203.1 L150.4,202.6 L150.4,202.1 L150.7,201.7 L151.0,201.4 L151.5,201.2 L152.0,200.9 L152.4,200.6 L152.6,200.2 L152.7,199.7 L152.6,199.1 L152.6,198.6 L152.7,198.1 L152.9,197.7 L153.4,197.5 L153.9,197.2 L154.3,196.9 L154.7,196.6 L154.8,196.2 L154.8,195.6 L154.8,195.1 L154.8,194.6 L155.0,194.1 L155.3,193.8 L155.8,193.6 L156.3,193.4 L156.8,193.1 L157.1,192.8 L157.2,192.3 L157.3,191.8 L157.3,191.2 L157.4,190.8 L157.6,190.4 L158.1,190.1 L158.6,189.9 L159.1,189.8 L159.5,189.5 L159.8,189.1 L159.9,188.6 L159.9,188.1 L160.0,187.6 L160.1,187.1 L160.5,186.8 L160.9,186.6 L161.5,186.4 L161.9,186.2 L162.3,185.9 L162.5,185.5 L162.6,185.0 L162.7,184.4 L162.7,183.9 L163.0,183.5 L163.3,183.2 L163.8,183.1 L164.4,182.9 L164.8,182.7 L165.1,182.3 L165.3,181.9 L165.3,181.3 L165.4,180.8 L165.5,180.3 L165.7,179.9 L166.2,179.7 L166.7,179.5 L167.2,179.3 L167.6,179.1 L167.9,178.7 L168.0,178.2 L168.0,177.6 L168.1,177.1 L168.3,176.7 L168.6,176.3 L169.1,176.1 L169.6,176.0 L170.1,175.8 L170.5,175.5 L170.7,175.1 L170.8,174.6 L170.8,174.0 L170.9,173.5 L171.2,173.1 L171.6,172.9 L172.1,172.8 L172.6,172.6 L173.1,172.4 L173.5,172.1 L173.7,171.7 L173.7,171.1 L173.8,170.6 L174.0,170.1 L174.3,169.7 L174.8,169.5 L175.3,169.4 L175.9,169.2 L176.3,169.0 L176.6,168.7 L176.8,168.2 L176.9,167.7 L177.1,167.2 L177.3,166.8 L177.7,166.5 L178.2,166.4 L178.8,166.4 L179.3,166.4 L179.7,166.3 L180.0,166.0 L180.2,165.5 L180.5,165.0 L180.8,164.6 L181.1,164.4 L181.6,164.3 L182.2,164.3 L182.7,164.4 L183.2,164.5 L183.7,164.3 L184.0,164.0 L184.4,163.6 L184.7,163.1 L185.1,162.8 L185.6,162.6 L186.1,162.7 L186.6,162.9 L187.1,163.1 L187.6,163.2 L188.0,163.1 L188.4,162.8 L188.8,162.4 L189.2,162.1 L189.6,161.9 L190.1,161.9 L190.6,162.1 L191.0,162.3 L191.5,162.6 L192.0,162.6 L192.4,162.5 L192.9,162.2 L193.3,161.8 L193.7,161.5 L194.2,161.4 L194.6,161.5 L195.1,161.8 L195.6,162.1 L196.1,162.2 L196.5,162.2 L197.0,162.1 L197.4,161.7 L197.9,161.4 L198.3,161.2 L198.8,161.2 L199.2,161.3 L199.7,161.6 L200.2,161.9 L200.6,162.1 L201.1,162.0 L201.5,161.8 L202.0,161.5 L202.4,161.2 L202.9,161.0 L203.3,161.1 L203.8,161.3 L204.3,161.7 L204.7,161.9 L205.2,162.0 L205.6,161.9 L206.1,161.6 L206.5,161.3 L207.0,161.0 L207.4,161.0 L207.9,161.1 L208.4,161.4 L208.8,161.7 L209.3,161.9 L209.7,161.9 L210.2,161.7 L210.6,161.4 L211.1,161.1 L211.5,160.8 L212.0,160.8 L212.4,161.0 L212.9,161.2 L213.4,161.4 L213.9,161.5 L214.3,161.4 L214.7,161.2 L215.2,160.8 L215.6,160.4 L216.0,160.2 L216.4,160.2 L216.9,160.4 L217.4,160.6 L217.9,160.8 L218.4,160.8 L218.8,160.6 L219.2,160.3 L219.6,159.9 L220.0,159.6 L220.5,159.4 L220.9,159.5 L221.4,159.6 L221.9,159.9 L222.4,160.0 L222.9,159.9 L223.3,159.6 L223.7,159.2 L224.1,158.8 L224.5,158.5 L224.9,158.4 L225.4,158.5 L225.9,158.7 L226.4,158.8 L226.9,158.8 L227.4,158.7 L227.7,158.3 L228.1,157.9 L228.4,157.5 L228.8,157.2 L229.2,157.1 L229.7,157.2 L230.3,157.4 L230.8,157.4 L231.2,157.4 L231.6,157.1 L231.9,156.6 L232.2,156.2 L232.5,155.7 L232.9,155.5 L233.4,155.4 L233.9,155.5 L234.4,155.5 L235.0,155.5 L235.4,155.3 L235.7,154.9 L235.9,154.4 L236.2,153.9 L236.5,153.5 L236.9,153.3 L237.4,153.2 L237.9,153.2 L238.4,153.2 L238.9,153.0 L239.3,152.8 L239.5,152.3 L239.7,151.8 L239.9,151.3 L240.2,150.9 L240.6,150.8 L241.1,150.7 L241.7,150.7 L242.2,150.6 L242.6,150.4 L242.9,150.0 L243.1,149.5 L243.2,148.9 L243.4,148.5 L243.7,148.1 L244.2,147.9 L244.7,147.8 L245.2,147.7 L245.7,147.6 L246.1,147.2 L246.3,146.8 L246.4,146.3 L246.5,145.7 L246.6,145.3 L247.0,145.0 L247.4,144.8 L248.0,144.6 L248.5,144.5 L248.9,144.2 L249.1,143.9 L249.2,143.4 L249.3,142.8 L249.3,142.3 L249.5,141.8 L249.8,141.5 L250.3,141.3 L250.8,141.1 L251.3,140.9 L251.6,140.6 L251.8,140.1 L251.8,139.6 L251.8,139.0 L251.9,138.5 L252.1,138.1 L252.5,137.8 L253.0,137.6 L253.5,137.4 L253.9,137.1 L254.1,136.7 L254.2,136.2 L254.2,135.7 L254.2,135.1 L254.3,134.7 L254.6,134.3 L255.0,134.0 L255.4,133.7 L255.8,133.5 L256.1,133.1 L256.3,132.7 L256.4,132.2 L256.5,131.7 L256.6,131.2 L256.7,130.8 L257.0,130.4 L257.3,130.1 L257.7,129.8 L258.0,129.4 L258.2,129.0 L258.3,128.6 L258.5,128.1 L258.6,127.7 L258.8,127.3 L259.0,126.9 L259.2,126.5 L259.5,126.1 L259.7,125.7 L259.9,125.3 L260.1,124.9 L260.3,124.4 L260.5,124.0 L260.7,123.6 L260.8,123.2 L261.0,122.8 L261.2,122.4 L261.4,122.0 L261.6,121.5 L261.8,121.1 L262.0,120.7 L262.2,120.3 L262.4,119.9 L262.5,119.5 L262.7,119.0 L262.9,118.6 L263.1,118.2 L263.2,117.8 L263.4,117.4 L263.6,116.9 L263.8,116.5 L263.9,116.1 L264.1,115.7 L264.2,115.2 L264.4,114.8 L264.5,114.4 L264.7,113.9 L264.8,113.5 L265.0,113.1 L265.1,112.6 L265.2,112.2 L265.4,111.8 L265.5,111.3 L265.6,110.9 L265.8,110.5 L265.9,110.0 L266.0,109.6 L266.1,109.2 L266.3,108.7 L266.4,108.3 L266.5,107.8 L266.6,107.4 L266.7,106.9 L266.8,106.5 L266.9,106.1 L267.0,105.6 L267.1,105.2 L267.2,104.7 L267.3,104.3 L267.4,103.8 L267.5,103.4 L267.6,102.9 L267.7,102.5 L267.8,102.1 L267.9,101.6 L268.0,101.2 L268.0,100.7 L268.1,100.3 L268.2,99.8 L268.3,99.4 L268.4,98.9 L268.4,98.5 L268.5,98.0 L268.6,97.6 L268.6,97.1 L268.7,96.7 L268.8,96.2 L268.8,95.8 L268.9,95.3 L268.9,94.9 L269.0,94.4 L269.0,94.9 L269.0,95.3 L269.0,95.8 L269.0,96.2 L269.0,96.7 L269.0,97.1 L269.0,97.6 L269.0,98.0 L269.0,98.5 L269.1,99.0 L269.1,99.4 L269.1,99.9 L269.1,100.3 L269.1,100.8 L269.1,101.2 L269.1,101.7 L269.1,102.1 L269.1,102.6 L269.1,103.0 L269.1,103.5 L269.1,104.0 L269.1,104.4 L269.1,104.9 L269.1,105.3 L269.1,105.8 L269.1,106.2 L269.1,106.7 L269.1,107.1 L269.1,107.6 L269.1,108.1 L269.1,108.5 L269.1,109.0 L269.1,109.4 L269.1,109.9 L269.1,110.3 L269.1,110.8 L269.1,111.2 L269.1,111.7 L269.1,112.2 L269.1,112.6 L269.1,113.1 L269.1,113.5 L269.1,114.0 L269.1,114.4 L269.1,114.9 L269.1,115.3 L269.1,115.8 L269.1,116.2 L269.1,116.7 L269.1,117.2 L269.1,117.6 L269.1,118.1 L269.1,118.5 L269.1,119.0 L269.0,119.4 L269.0,119.9 L269.0,120.3 L269.0,120.8 L269.0,121.3 L269.0,121.7 L269.0,122.2 L269.0,122.6 L269.0,123.1 L269.0,123.5 L269.0,124.0 L269.0,124.4 L269.0,124.9 L269.0,125.4 L269.0,125.8 L269.0,126.3 L269.0,126.7 L268.9,127.2 L268.9,127.6 L268.9,128.1 L268.9,128.5 L268.9,129.0 L268.9,129.4 L268.9,129.9 L268.9,130.4 L268.9,130.8 L268.9,131.3 L268.9,131.7 L268.9,132.2 L268.8,132.6 L268.8,133.1 L268.8,133.5 L268.8,134.0 L268.8,134.5 L268.8,134.9 L268.8,135.4 L268.8,135.8 L268.8,136.3 L268.8,136.7 L268.7,137.2 L268.7,137.6 L268.7,138.1 L268.7,138.5 L268.7,139.0 L268.7,139.5 L268.6,139.9 L268.6,140.4 L268.6,140.8 L268.6,141.3 L268.5,141.7 L268.5,142.2 L268.5,142.6 L268.5,143.1 L268.4,143.5 L268.4,144.0 L268.4,144.5 L268.4,144.9 L268.3,145.4 L268.3,145.8 L268.3,146.3 L268.3,146.7 L268.2,147.2 L268.2,147.6 L268.2,148.1 L268.1,148.5 L268.1,149.0 L268.1,149.5 L268.0,149.9 L268.0,150.4 L268.0,150.8 L267.9,151.3 L267.9,151.7 L267.9,152.2 L267.8,152.6 L267.8,153.1 L267.8,153.5 L267.7,154.0 L267.7,154.4 L267.7,154.9 L267.6,155.4 L267.6,155.8 L267.6,156.3 L267.5,156.7 L267.5,157.2 L267.5,157.6 L267.4,158.1 L267.4,158.5 L267.4,159.0 L267.3,159.4 L267.3,159.9 L267.3,160.3 L267.2,160.8 L267.2,161.3 L267.2,161.7 L267.1,162.2 L267.1,162.6 L267.0,163.1 L267.0,163.5 L267.0,164.0 L266.9,164.4 L266.9,164.9 L266.9,165.3 L266.8,165.8 L266.8,166.2 L266.7,166.7 L266.7,167.1 L266.6,167.6 L266.6,168.1 L266.6,168.5 L266.5,169.0 L266.5,169.4 L266.4,169.9 L266.4,170.3 L266.3,170.8 L266.3,171.2 L266.3,171.7 L266.2,172.1 L266.2,172.6 L266.1,173.0 L266.1,173.5 L266.0,173.9 L266.0,174.4 L265.9,174.9 L265.9,175.3 L265.8,175.8 L265.8,176.2 L265.7,176.7 L265.7,177.1 L265.7,177.6 L265.6,178.0 L265.6,178.5 L265.5,178.9 L265.5,179.4 L265.4,179.8 L265.4,180.3 L265.3,180.7 L265.3,181.2 L265.2,181.6 L265.2,182.1 L265.1,182.5 L265.1,183.0 L265.0,183.4 L265.0,183.9 L264.9,184.4 L264.9,184.8 L264.8,185.3 L264.8,185.7 L264.7,186.2 L264.7,186.6 L264.6,187.1 L264.6,187.5 L264.5,188.0 L264.5,188.4 L264.4,188.9 L264.4,189.3 L264.3,189.8 L264.2,190.2 L264.2,190.7 L264.1,191.1 L264.1,191.6 L264.0,192.0 L264.0,192.5 L263.9,192.9 L263.9,193.4 L263.8,193.8 L263.7,194.3 L263.7,194.8 L263.6,195.2 L263.6,195.7 L263.5,196.1 L263.5,196.6 L263.4,197.0 L263.3,197.5 L263.3,197.9 L263.2,198.4 L263.2,198.8 L263.1,199.3 L263.0,199.7 L263.0,200.2 L262.9,200.6 L262.9,201.1 L262.8,201.5 L262.7,202.0 L262.7,202.4 L262.6,202.9 L262.6,203.3 L262.5,203.8 L262.4,204.2 L262.4,204.7 L262.3,205.1 L262.2,205.6 L262.2,206.0 L262.1,206.5 L262.0,206.9 L262.0,207.4 L261.9,207.8 L261.9,208.3 L261.8,208.7 L261.7,209.2 L261.7,209.6 L261.6,210.1 L261.5,210.5 L261.5,211.0 L261.4,211.4 L261.3,211.9 L261.2,212.3 L261.2,212.8 L261.1,213.2 L261.0,213.7 L261.0,214.1 L260.9,214.6 L260.8,215.0 L260.8,215.5 L260.7,215.9 L260.6,216.4 L260.5,216.8 L260.5,217.3 L260.4,217.7 L260.3,218.2 L260.2,218.6 L260.1,219.1 L260.1,219.5 L260.0,220.0 L259.9,220.4 L259.8,220.9 L259.7,221.3 L259.7,221.8 L259.6,222.2 L259.5,222.7 L259.4,223.1 L259.3,223.5 L259.2,224.0 L259.1,224.4 L259.0,224.9 L258.9,225.3 L258.8,225.8 L258.7,226.2 L258.6,226.6 L258.5,227.1 L258.4,227.5 L258.3,228.0 L258.1,228.4 L258.0,228.9 L257.9,229.3 L257.8,229.7 L257.7,230.2 L257.6,230.6 L257.4,231.0 L257.3,231.5 L257.2,231.9 L257.1,232.4 L256.9,232.8 L256.8,233.2 L256.7,233.7 L256.5,234.1 L256.4,234.6 L256.3,235.0 L256.2,235.4 L256.0,235.9 L255.9,236.3 L255.8,236.7 L255.7,237.2 L255.5,237.6 L255.4,238.0 L255.3,238.5 L255.1,238.9 L255.0,239.4 L254.9,239.8 L254.8,240.2 L254.6,240.7 L254.5,241.1 L254.4,241.5 L254.2,242.0 L254.1,242.4 L254.0,242.9 L253.8,243.3 L253.7,243.7 L253.6,244.2 L253.4,244.6 L253.3,245.0 L253.1,245.5 L253.0,245.9 L252.9,246.3 L252.7,246.8 L252.6,247.2 L252.5,247.6 L252.3,248.1 L252.2,248.5 L252.0,248.9 L251.9,249.4 L251.7,249.8 L251.6,250.2 L251.5,250.7 L251.4,251.1 L251.2,251.5 L251.0,252.0 L250.8,252.4 L250.6,252.8 L250.4,253.2 L250.2,253.6 L250.1,254.0 L250.0,254.5 L250.0,255.0 L249.9,255.4 L249.8,255.9 L249.6,256.3 L249.3,256.7 L249.0,257.0 L248.7,257.4 L248.4,257.7 L248.2,258.2 L248.2,258.6 L248.2,259.2 L248.3,259.7 L248.2,260.2 L248.1,260.6 L247.8,260.9 L247.3,261.3 L246.9,261.5 L246.4,261.8 L246.2,262.2 L246.1,262.7 L246.2,263.2 L246.3,263.8 L246.4,264.3 L246.4,264.8 L246.1,265.2 L245.7,265.5 L245.1,265.8 L244.6,266.0 L244.2,266.3 L244.0,266.8 L244.0,267.3 L244.2,267.8 L244.3,268.4 L244.4,268.9 L244.2,269.4 L243.9,269.7 L243.4,270.0 L242.8,270.2 L242.3,270.5 L242.0,270.8 L241.9,271.3 L241.9,271.8 L242.0,272.4 L242.1,272.9 L242.1,273.4 L241.8,273.8 L241.4,274.1 L240.9,274.3 L240.3,274.5 L239.8,274.7 L239.5,275.1 L239.4,275.5 L239.5,276.1 L239.5,276.7 L239.5,277.2 L239.4,277.7 L239.0,278.0 L238.5,278.2 L237.9,278.3 L237.3,278.5 L236.9,278.7 L236.7,279.1 L236.6,279.6 L236.6,280.2 L236.6,280.8 L236.5,281.3 L236.2,281.7 L235.8,281.9 L235.2,282.1 L234.6,282.2 L234.1,282.3 L233.7,282.6 L233.5,283.0 L233.5,283.5 L233.5,284.1 L233.4,284.7 L233.2,285.2 L232.9,285.5 L232.4,285.6 L231.8,285.7 L231.2,285.8 L230.8,285.9 L230.4,286.3 L230.2,286.7 L230.2,287.3 L230.1,287.9 L230.0,288.4 L229.8,288.8 L229.4,289.1 L228.8,289.2 L228.2,289.2 L227.6,289.3 L227.2,289.5 L226.9,289.8 L226.7,290.3 L226.7,290.9 L226.6,291.5 L226.4,292.0 L226.1,292.3 L225.6,292.5 L225.1,292.5 L224.5,292.5 L223.9,292.6 L223.5,292.8 L223.3,293.2 L223.2,293.8 L223.1,294.4 L223.0,294.9 L222.7,295.4 L222.3,295.6 L221.8,295.7 L221.2,295.7 L220.6,295.7 L220.1,295.8 L219.8,296.1 L219.6,296.6 L219.5,297.1 L219.3,297.7 L219.2,298.2 L218.9,298.6 L218.4,298.8 L217.9,298.8 L217.3,298.8 L216.7,298.8 L216.3,299.0 L215.9,299.3 L215.8,299.8 L215.6,300.4 L215.5,301.0 L215.3,301.4 L214.9,301.7 L214.4,301.8 L213.8,301.8 L213.2,301.7 L212.7,301.8 L212.3,302.0 L212.0,302.4 L211.8,302.9 L211.7,303.5 L211.6,304.0 L211.3,304.4 L210.9,304.6 L210.4,304.7 L209.8,304.7 L209.2,304.7 L208.7,304.8 L208.3,305.1 L208.1,305.6 L208.0,306.2 L207.9,306.7 L207.7,307.2 L207.4,307.6 L207.0,307.8 L206.4,307.8 L205.8,307.8 L205.2,307.8 L204.8,308.0 L204.5,308.4 L204.3,308.9 L204.3,309.5 L204.1,310.1 L203.9,310.5 L203.6,310.8 L203.1,311.0 L202.5,311.0 L201.9,311.0 L201.4,311.2 L201.1,311.4 L200.9,311.9 L200.8,312.5 L200.7,313.1 L200.7,313.6 L200.5,314.0 L200.1,314.3 L199.6,314.4 L199.0,314.5 L198.4,314.6 L198.0,314.8 L197.7,315.2 L197.6,315.7 L197.6,316.3 L197.6,316.9 L197.6,317.4 L197.3,317.8 L196.9,318.0 L196.4,318.2 L195.8,318.3 L195.3,318.5 L194.9,318.8 L194.7,319.2 L194.7,319.8 L194.8,320.4 L194.8,321.0 L194.7,321.4 L194.4,321.8 L193.9,322.0 L193.3,322.2 L192.8,322.4 L192.3,322.6 L192.0,323.0 L191.9,323.4 L191.9,324.0 L192.0,324.6 L192.0,325.2 L191.8,325.6 L191.4,325.9 L190.9,326.1 L190.3,326.2 L189.8,326.4 L189.4,326.7 L189.2,327.1 L189.1,327.6 L189.2,328.2 L189.2,328.8 L189.1,329.3 L188.9,329.7 L188.5,329.9 L187.9,330.1 L187.3,330.2 L186.8,330.5 L186.5,330.8 L186.3,331.2 L186.3,331.8 L186.4,332.4 L186.4,332.9 L186.3,333.4 L186.0,333.7 L185.5,334.0 L184.9,334.1 L184.4,334.3 L183.9,334.5 L183.6,334.9 L183.6,335.4 L183.6,336.0 L183.7,336.6 L183.6,337.1 L183.5,337.5 L183.1,337.8 L182.6,338.0 L182.0,338.2 L181.4,338.4 L181.1,338.7 L180.9,339.1 L180.9,339.6 L180.9,340.2 L181.0,340.8 L180.9,341.3 L180.7,341.7 L180.2,341.9 L179.7,342.1 L179.1,342.3 L178.6,342.5 L178.3,342.9 L178.2,343.4 L178.3,343.9 L178.4,344.5 L178.4,345.1 L178.3,345.6 L178.0,345.9 L177.6,346.2 L177.0,346.4 L176.5,346.6 L176.0,346.9 L175.8,347.3 L175.8,347.8 L175.9,348.4 L176.0,349.0 L176.0,349.5 L175.8,350.0 L175.5,350.3 L174.9,350.5 L174.4,350.7 L173.9,350.9 L173.5,351.3 L173.4,351.7 L173.4,352.2 L173.5,352.8 L173.5,353.4 L173.4,353.9 L173.1,354.2 L172.7,354.5 L172.1,354.6 L171.5,354.7 L171.1,354.9 L170.8,355.2 L170.6,355.7 L170.6,356.3 L170.6,356.8 L170.5,357.4 L170.3,357.8 L169.9,358.1 L169.4,358.2 L168.8,358.2 L168.2,358.3 L167.7,358.5 L167.4,358.8 L167.3,359.3 L167.2,359.9 L167.1,360.5 L166.9,361.0 L166.5,361.3 L166.1,361.4 L165.5,361.5 L164.9,361.4 L164.3,361.5 L163.9,361.7 L163.6,362.1 L163.5,362.6 L163.4,363.2 L163.2,363.7 L163.0,364.2 L162.6,364.4 L162.1,364.5 L161.5,364.5 L160.9,364.4 L160.4,364.5 L160.0,364.8 L159.7,365.2 L159.5,365.7 L159.4,366.3 L159.2,366.8 L158.8,367.2 L158.4,367.3 L157.8,367.3 L157.2,367.2 L156.7,367.1 L156.2,367.1 L155.8,367.4 L155.6,367.8 L155.3,368.4 L155.1,368.9 L154.8,369.3 L154.4,369.6 L153.9,369.6 L153.3,369.5 L152.7,369.4 L152.1,369.3 L151.7,369.4 L151.3,369.8 L151.0,370.2 L150.7,370.8 L150.4,371.3 L150.0,371.6 L149.5,371.6 L149.0,371.5 L148.5,371.2 L148.0,370.9 L147.6,370.7 L147.2,370.8 L146.8,371.0 L146.3,371.3 L145.8,371.6 L145.3,371.8 L144.8,371.7 L144.4,371.4 L144.0,371.0 L143.7,370.4 L143.4,370.0 L143.0,369.7 L142.6,369.6 L142.0,369.7 L141.5,369.9 L140.9,370.0 L140.4,370.0 L140.0,369.8 L139.7,369.4 L139.5,368.8 L139.3,368.2 L139.1,367.8 L138.8,367.5 L138.3,367.4 L137.7,367.4 L137.1,367.4 L136.6,367.4 L136.1,367.3 L135.8,366.9 L135.6,366.4 L135.4,365.8 L135.2,365.3 L135.0,364.8 L134.6,364.6 L134.0,364.6 L133.5,364.6 L132.9,364.7 L132.3,364.7 L131.9,364.5 L131.6,364.1 L131.5,363.5 L131.3,362.9 L131.1,362.4 L130.8,362.1 L130.3,361.9 L129.8,361.9 L129.2,362.0 L128.6,362.0 L128.1,362.0 L127.8,361.7 L127.5,361.3 L127.3,360.7 L127.1,360.2 L126.8,359.7 L126.4,359.5 L125.9,359.4 L125.4,359.5 L124.8,359.7 L124.2,359.8 L123.8,359.7 L123.4,359.4 L123.1,358.9 L122.9,358.4 L122.6,357.8 L122.3,357.5 L121.8,357.3 L121.3,357.4 L120.7,357.6 L120.2,357.7 L119.6,357.8 L119.2,357.7 L118.9,357.3 L118.5,356.9 L118.2,356.3 L117.9,355.9 L117.5,355.7 L117.0,355.7 L116.5,355.9 L115.9,356.1 L115.4,356.4 L115.0,356.4 L114.5,356.3 L114.1,355.9 L113.8,355.5 L113.4,355.0 L113.0,354.7 L112.6,354.6 L112.1,354.7 L111.6,354.9 L111.0,355.2 L110.5,355.4 L110.1,355.4 L109.6,355.2 L109.2,354.9 L108.8,354.4 L108.4,354.0 L108.0,353.8 L107.5,353.8 L107.0,354.1 L106.5,354.5 L106.1,354.8 L105.7,355.0 L105.2,355.1 L104.8,354.9 L104.3,354.5 L103.8,354.2 L103.3,354.0 L102.8,353.9 L102.4,354.1 L102.0,354.5 L101.6,355.0 L101.2,355.4 L100.7,355.6 L100.3,355.6 L99.8,355.3 L99.3,355.0 L98.8,354.7 L98.3,354.6 L97.9,354.7 L97.4,355.0 L97.0,355.4 L96.7,355.8 L96.3,356.2 L95.8,356.3 L95.4,356.3 L94.8,356.0 L94.3,355.8 L93.8,355.5 L93.3,355.5 L92.9,355.7 L92.5,356.1 L92.2,356.5 L91.8,357.0 L91.4,357.3 L91.0,357.4 L90.5,357.3 L90.0,357.1 L89.4,356.8 L88.9,356.7 L88.4,356.8 L88.1,357.1 L87.7,357.5 L87.4,358.0 L87.1,358.5 L86.7,358.8 L86.3,358.8 L85.7,358.7 L85.2,358.5 L84.6,358.4 L84.1,358.4 L83.7,358.6 L83.4,359.0 L83.1,359.5 L82.8,360.1 L82.5,360.5 L82.1,360.7 L81.7,360.7 L81.1,360.6 L80.5,360.5 L80.0,360.4 L79.5,360.5 L79.2,360.8 L78.9,361.3 L78.7,361.8 L78.4,362.3 L78.1,362.7 L77.7,362.9 L77.2,362.9 L76.6,362.8 L76.0,362.7 L75.5,362.8 L75.1,363.0 L74.8,363.4 L74.6,363.9 L74.4,364.5 L74.2,365.0 L73.9,365.3 L73.4,365.5 L72.9,365.4 L72.3,365.4 L71.7,365.3 L71.3,365.5 L70.9,365.8 L70.7,366.2 L70.5,366.7 L70.2,367.2 L69.9,367.5 L69.5,367.8 L69.0,367.9 L68.6,368.0 L68.1,368.1 L67.7,368.3 L67.3,368.6 L67.0,368.9 L66.6,369.2 L66.3,369.5 L65.9,369.7 L65.5,370.0 L65.1,370.2 L64.7,370.5 L64.4,370.7 L64.0,371.0" fill="none" stroke="#000" stroke-width="1.5" stroke-linejoin="round" stroke-linecap="round"/>
<path d="M63.3,398.5 L63.3,398.0 L63.3,397.6 L63.4,397.1 L63.4,396.7 L63.4,396.2 L63.4,395.8 L63.4,395.3 L63.4,394.9 L63.5,394.4 L63.5,393.9 L63.5,393.5 L63.5,393.0 L63.5,392.6 L63.5,392.1 L63.6,391.7 L63.6,391.2 L63.6,390.8 L63.6,390.3 L63.6,389.9 L63.6,389.4 L63.7,388.9 L63.7,388.5 L63.7,388.0 L63.7,387.6 L63.7,387.1 L63.7,386.7 L63.8,386.2 L63.8,385.8 L63.8,385.3 L63.8,384.9 L63.8,384.4 L63.8,383.9 L63.9,383.5 L63.9,383.0 L63.9,382.6 L63.9,382.1 L63.9,381.7 L64.0,381.2 L64.0,380.8 L64.0,380.3 L64.0,379.8 L64.0,379.4 L64.0,378.9 L64.1,378.5 L64.1,378.0 L64.1,377.6 L64.1,377.1 L64.1,376.7 L64.1,376.2 L64.2,375.8 L64.2,375.3 L64.2,374.8 L64.2,374.4 L64.2,373.9 L64.2,373.5 L64.3,373.0 L64.3,372.6 L64.3,372.1 L64.3,371.7 L64.3,371.2 L64.3,370.7 L64.4,370.3 L64.4,369.8 L64.4,369.4 L64.4,368.9 L64.4,368.5 L64.5,368.0 L64.5,367.6 L64.5,367.1 L64.5,366.7 L64.5,366.2 L64.5,365.7 L64.6,365.3 L64.6,364.8 L64.6,364.4 L64.6,363.9 L64.6,363.5 L64.7,363.0 L64.7,362.6 L64.7,362.1 L64.7,361.6 L64.7,361.2 L64.8,360.7 L64.8,360.3 L64.8,359.8 L64.8,359.4 L64.9,358.9 L64.9,358.5 L64.9,358.0 L64.9,357.6 L64.9,357.1 L65.0,356.6 L65.0,356.2 L65.0,355.7 L65.0,355.3 L65.1,354.8 L65.1,354.4 L65.1,353.9 L65.2,353.5 L65.2,353.0 L65.2,352.6 L65.2,352.1 L65.3,351.6 L65.3,351.2 L65.3,350.7 L65.3,350.3 L65.4,349.8 L65.4,349.4 L65.4,348.9 L65.5,348.5 L65.5,348.0 L65.5,347.6 L65.5,347.1 L65.6,346.6 L65.6,346.2 L65.6,345.7 L65.7,345.3 L65.7,344.8 L65.7,344.4 L65.7,343.9 L65.8,343.5 L65.8,343.0 L65.8,342.6 L65.9,342.1 L65.9,341.6 L65.9,341.2 L66.0,340.7 L66.0,340.3 L66.0,339.8 L66.0,339.4 L66.1,338.9 L66.1,338.5 L66.1,338.0 L66.2,337.6 L66.2,337.1 L66.2,336.6 L66.2,336.2 L66.3,335.7 L66.3,335.3 L66.3,334.8 L66.4,334.4 L66.4,333.9 L66.4,333.5 L66.4,333.0 L66.5,332.6 L66.5,332.1 L66.5,331.6 L66.6,331.2 L66.6,330.7 L66.6,330.3 L66.7,329.8 L66.7,329.4 L66.7,328.9 L66.8,328.5 L66.8,328.0 L66.8,327.6 L66.8,327.1 L66.9,326.7 L66.9,326.2 L66.9,325.7 L67.0,325.3 L67.0,324.8 L67.0,324.4 L67.1,323.9 L67.1,323.5 L67.2,323.0 L67.2,322.6 L67.2,322.1 L67.3,321.7 L67.3,321.2 L67.3,320.8 L67.4,320.3 L67.4,319.8 L67.5,319.4 L67.5,318.9 L67.5,318.5 L67.6,318.0 L67.6,317.6 L67.7,317.1 L67.7,316.7 L67.7,316.2 L67.8,315.8 L67.8,315.3 L67.9,314.9 L67.9,314.4 L68.0,314.0 L68.0,313.5 L68.1,313.0 L68.1,312.6 L68.2,312.1 L68.2,311.7 L68.3,311.2 L68.3,310.8 L68.4,310.3 L68.4,309.9 L68.5,309.4 L68.5,309.0 L68.6,308.5 L68.6,308.1 L68.7,307.6 L68.7,307.2 L68.8,306.7 L68.8,306.3 L68.9,305.8 L69.0,305.4 L69.0,304.9 L69.1,304.5 L69.1,304.0 L69.2,303.5 L69.3,303.1 L69.3,302.6 L69.4,302.2 L69.4,301.7 L69.5,301.3 L69.6,300.8 L69.6,300.4 L69.7,299.9 L69.7,299.5 L69.8,299.0 L69.9,298.6 L69.9,298.1 L70.0,297.7 L70.1,297.2 L70.2,296.8 L70.2,296.3 L70.3,295.9 L70.4,295.4 L70.4,295.0 L70.5,294.5 L70.6,294.1 L70.7,293.6 L70.7,293.2 L70.8,292.7 L70.9,292.3 L71.0,291.8 L71.1,291.4 L71.1,290.9 L71.2,290.5 L71.3,290.0 L71.4,289.6 L71.5,289.1 L71.6,288.7 L71.6,288.3 L71.7,287.8 L71.8,287.4 L71.9,286.9 L72.0,286.5 L72.1,286.0 L72.2,285.6 L72.3,285.1 L72.4,284.7 L72.5,284.3 L72.6,283.8 L72.7,283.4 L72.8,282.9 L72.9,282.5 L73.0,282.0 L73.1,281.6 L73.2,281.1 L73.3,280.7 L73.4,280.3 L73.5,279.8 L73.7,279.4 L73.8,278.9 L73.9,278.5 L74.0,278.1 L74.1,277.6 L74.3,277.2 L74.4,276.7 L74.5,276.3 L74.6,275.9 L74.8,275.4 L74.9,275.0 L75.0,274.6 L75.2,274.1 L75.3,273.7 L75.4,273.3 L75.6,272.8 L75.7,272.4 L75.9,272.0 L76.0,271.5 L76.1,271.1 L76.3,270.7 L76.4,270.2 L76.6,269.8 L76.7,269.4 L76.9,268.9 L77.0,268.5 L77.2,268.1 L77.3,267.7 L77.5,267.2 L77.7,266.8 L77.8,266.4 L78.0,266.0 L78.1,265.5 L78.3,265.1 L78.5,264.7 L78.7,264.3 L78.8,263.8 L79.0,263.4 L79.2,263.0 L79.3,262.6 L79.5,262.1 L79.7,261.7 L79.9,261.3 L80.1,260.9 L80.2,260.5 L80.4,260.0 L80.6,259.6 L80.8,259.2 L81.0,258.8 L81.2,258.4 L81.3,258.0 L81.5,257.5 L81.7,257.1 L81.9,256.7 L82.1,256.3 L82.3,255.9 L82.5,255.5 L82.7,255.1 L82.8,254.6 L83.0,254.2 L83.2,253.8 L83.4,253.4 L83.6,253.0 L83.8,252.6 L84.0,252.1 L84.2,251.7 L84.4,251.3 L84.6,250.9 L84.8,250.5 L85.0,250.1 L85.2,249.7 L85.4,249.3 L85.6,248.8 L85.9,248.4 L86.1,248.0 L86.3,247.7 L86.5,247.3 L86.7,246.9 L87.0,246.5 L87.2,246.1 L87.5,245.7 L87.7,245.3 L87.9,245.0 L88.2,244.6 L88.5,244.3 L88.7,243.9 L89.0,243.5 L89.3,243.2 L89.6,242.8 L89.8,242.5 L90.1,242.1 L90.5,241.8 L90.8,241.5 L91.1,241.1 L91.4,240.8 L91.7,240.5 L92.1,240.2 L92.4,239.9 L92.7,239.5 L93.1,239.2 L93.4,238.9 L93.7,238.5 L94.0,238.2 L94.3,237.8 L94.5,237.4 L94.8,237.1 L95.1,236.7 L95.4,236.4 L95.8,236.1 L96.1,235.8 L96.4,235.5 L96.8,235.2 L97.1,234.9 L97.5,234.6 L97.9,234.3 L98.2,234.0 L98.6,233.7 L98.9,233.4 L99.3,233.1 L99.6,232.8 L99.9,232.5 L100.3,232.2 L100.7,231.9 L101.0,231.7 L101.4,231.4 L101.8,231.1 L102.1,230.9 L102.5,230.6 L102.9,230.4 L103.3,230.1 L103.7,229.9 L104.0,229.6 L104.4,229.3 L104.8,229.0 L105.1,228.8 L105.4,228.5 L105.8,228.2 L106.1,227.9 L106.5,227.6 L106.9,227.3 L107.2,227.1 L107.6,226.8 L108.0,226.6 L108.4,226.4 L108.8,226.2 L109.2,226.0 L109.6,225.7 L110.0,225.5 L110.4,225.3 L110.8,225.1 L111.2,224.8 L111.6,224.6 L112.0,224.3 L112.3,224.0 L112.7,223.8 L113.0,223.5 L113.4,223.2 L113.8,223.0 L114.1,222.7 L114.5,222.4 L114.9,222.2 L115.3,221.9 L115.7,221.7 L116.1,221.4 L116.4,221.2 L116.8,220.9 L117.2,220.6 L117.5,220.4 L117.9,220.1 L118.2,219.8 L118.6,219.5 L118.9,219.2 L119.3,218.9 L119.6,218.6 L120.0,218.3 L120.4,218.1 L120.8,217.9 L121.2,217.7 L121.6,217.5 L122.0,217.3 L122.4,217.1 L122.9,216.9 L123.3,216.7 L123.7,216.5 L124.1,216.3 L124.5,216.1 L124.9,215.8 L125.2,215.6 L125.6,215.3 L126.0,215.0 L126.4,214.8 L126.7,214.5 L127.1,214.3 L127.5,214.0 L127.9,213.8 L128.3,213.6 L128.7,213.4 L129.1,213.1 L129.5,212.9 L129.9,212.7 L130.3,212.4 L130.6,212.2 L131.0,211.9 L131.3,211.5 L131.7,211.2 L132.0,210.9 L132.3,210.5 L132.6,210.2 L132.9,209.8 L133.2,209.5 L133.5,209.2 L133.8,208.9 L134.1,208.6 L134.5,208.3 L134.9,208.0 L135.2,207.7 L135.6,207.5 L135.9,207.2 L136.3,206.8 L136.6,206.5 L136.8,206.1 L137.1,205.7 L137.3,205.3 L137.5,204.9 L137.8,204.5 L138.0,204.1 L138.2,203.7 L138.4,203.3 L138.6,202.9 L138.9,202.5 L139.1,202.1 L139.4,201.7 L139.7,201.4 L140.0,201.1 L140.3,200.7 L140.6,200.3 L140.9,200.0 L141.1,199.6 L141.3,199.2 L141.4,198.7 L141.6,198.3 L141.7,197.8 L141.9,197.4 L142.0,196.9 L142.1,196.5 L142.3,196.1 L142.5,195.7 L142.8,195.3 L143.0,194.9 L143.3,194.5 L143.7,194.2 L144.0,193.9 L144.4,193.6 L144.7,193.3 L145.0,193.0 L145.4,192.6 L145.6,192.3 L145.9,191.9 L146.2,191.5 L146.4,191.1 L146.6,190.7 L146.8,190.3 L147.1,189.9 L147.3,189.5 L147.6,189.1 L147.9,188.8 L148.2,188.4 L148.5,188.1 L148.8,187.8 L149.1,187.5 L149.5,187.1 L149.8,186.8 L150.1,186.4 L150.3,186.1 L150.5,185.7 L150.7,185.2 L150.9,184.8 L151.0,184.4 L151.1,183.9 L151.2,183.4 L151.4,183.0 L151.5,182.6 L151.7,182.1 L151.9,181.8 L152.2,181.4 L152.5,181.0 L152.8,180.7 L153.1,180.3 L153.4,180.0 L153.8,179.6 L154.1,179.3 L154.4,178.9 L154.6,178.5 L154.9,178.2 L155.1,177.7 L155.2,177.3 L155.4,176.9 L155.6,176.5 L155.7,176.0 L155.9,175.6 L156.1,175.2 L156.3,174.8 L156.6,174.4 L156.8,174.0 L157.1,173.7 L157.4,173.3 L157.7,173.0 L158.0,172.6 L158.3,172.3 L158.5,171.9 L158.8,171.5 L158.9,171.1 L159.1,170.6 L159.2,170.2 L159.4,169.7 L159.5,169.3 L159.6,168.8 L159.8,168.4 L160.0,167.9 L160.2,167.5 L160.5,167.2 L160.8,166.8 L161.1,166.5 L161.4,166.2 L161.8,165.8 L162.1,165.5 L162.5,165.2 L162.8,164.9 L163.1,164.5 L163.4,164.2 L163.6,163.8 L163.9,163.4 L164.1,163.0 L164.3,162.6 L164.5,162.2 L164.7,161.8 L165.0,161.4 L165.3,161.1 L165.5,160.7 L165.8,160.4 L166.2,160.0 L166.5,159.7 L166.8,159.3 L167.1,159.0 L167.4,158.6 L167.7,158.2 L167.9,157.8 L168.1,157.4 L168.3,157.0 L168.4,156.5 L168.6,156.1 L168.7,155.6 L168.8,155.2 L169.0,154.7 L169.1,154.3 L169.3,153.9 L169.6,153.5 L169.8,153.1 L170.1,152.7 L170.4,152.4 L170.8,152.1 L171.1,151.8 L171.5,151.5 L171.8,151.2 L172.1,150.9 L172.4,150.5 L172.7,150.2 L173.0,149.9 L173.3,149.6 L173.6,149.2 L174.0,148.9 L174.3,148.6 L174.6,148.3 L175.0,148.0 L175.4,147.7 L175.7,147.5 L176.1,147.2 L176.6,147.0 L177.0,146.8 L177.4,146.5 L177.8,146.3 L178.1,146.0 L178.5,145.7 L178.8,145.4 L179.2,145.1 L179.5,144.8 L179.8,144.4 L180.1,144.1 L180.4,143.7 L180.7,143.3 L181.0,142.9 L181.3,142.5 L181.6,142.1 L181.9,141.8 L182.3,141.4 L182.6,141.1 L183.0,140.7 L183.4,140.4 L183.8,140.1 L184.2,139.8 L184.6,139.5 L184.9,139.2 L185.3,138.9 L185.7,138.7 L186.0,138.4 L186.4,138.2 L186.8,138.0 L187.2,137.9 L187.6,137.9 L188.0,137.9 L188.5,138.0 L188.9,138.1 L189.3,138.2 L189.7,138.4 L190.1,138.6 L190.6,138.8 L191.0,139.0 L191.5,139.2 L191.9,139.3 L192.4,139.5 L192.9,139.5 L193.3,139.6 L193.8,139.6 L194.3,139.5 L194.7,139.4 L195.1,139.3 L195.6,139.2 L196.0,139.0 L196.4,138.9 L196.8,138.7 L197.3,138.6 L197.7,138.4 L198.1,138.2 L198.6,138.0 L199.0,137.8 L199.4,137.6 L199.9,137.4 L200.3,137.2 L200.7,137.0 L201.2,136.8 L201.6,136.7 L202.0,136.5 L202.5,136.4 L202.9,136.3 L203.4,136.3 L203.8,136.3 L204.3,136.3 L204.7,136.4 L205.2,136.5 L205.6,136.6 L206.1,136.7 L206.5,136.8 L207.0,136.9 L207.4,137.0 L207.9,137.1 L208.3,137.2 L208.8,137.3 L209.3,137.3 L209.7,137.4 L210.2,137.5 L210.6,137.5 L211.1,137.6 L211.5,137.6 L211.9,137.6 L212.4,137.6 L212.8,137.6 L213.3,137.5 L213.7,137.4 L214.1,137.3 L214.5,137.1 L215.0,136.8 L215.4,136.6 L215.8,136.3 L216.2,136.1 L216.6,135.8 L217.0,135.6 L217.4,135.3 L217.8,135.1 L218.2,134.9 L218.7,134.7 L219.1,134.6 L219.6,134.5 L220.0,134.5 L220.5,134.5 L220.9,134.4 L221.4,134.4 L221.8,134.4 L222.3,134.3 L222.8,134.2 L223.2,134.2 L223.7,134.1 L224.1,134.0 L224.6,133.9 L225.1,133.8 L225.5,133.8 L226.0,133.7 L226.4,133.7 L226.9,133.7 L227.3,133.7 L227.7,133.7 L228.2,133.6 L228.6,133.6 L229.0,133.5 L229.4,133.3 L229.8,133.1 L230.2,132.8 L230.6,132.5 L230.9,132.2 L231.2,131.8 L231.6,131.5 L231.9,131.1 L232.2,130.8 L232.6,130.4 L233.0,130.1 L233.3,129.9 L233.7,129.6 L234.1,129.4 L234.5,129.2 L235.0,129.0 L235.4,128.8 L235.8,128.5 L236.1,128.3 L236.5,128.0 L236.9,127.7 L237.2,127.4 L237.5,127.1 L237.9,126.8 L238.2,126.4 L238.5,126.1 L238.8,125.8 L239.2,125.5 L239.5,125.2 L239.9,125.0 L240.3,124.7 L240.7,124.5 L241.1,124.3 L241.5,124.1 L242.0,123.9 L242.4,123.6 L242.8,123.4 L243.1,123.1 L243.5,122.8 L243.8,122.5 L244.1,122.1 L244.4,121.8 L244.7,121.4 L245.0,121.1 L245.3,120.7 L245.6,120.4 L245.8,120.0 L246.1,119.7 L246.5,119.4 L246.8,119.1 L247.1,118.8 L247.4,118.5 L247.7,118.1 L248.0,117.8 L248.3,117.4 L248.5,117.0 L248.7,116.6 L248.9,116.1 L249.0,115.7 L249.1,115.2 L249.2,114.8 L249.3,114.3 L249.5,113.9 L249.6,113.4 L249.8,113.0 L250.0,112.6 L250.3,112.2 L250.6,111.8 L250.9,111.4 L251.2,111.1 L251.5,110.7 L251.8,110.4 L252.0,110.0 L252.3,109.6 L252.5,109.2 L252.7,108.8 L252.9,108.4 L253.1,107.9 L253.3,107.5 L253.5,107.1 L253.7,106.7 L253.9,106.3 L254.1,105.9 L254.4,105.5 L254.7,105.2 L255.0,104.8 L255.3,104.5 L255.6,104.1 L255.9,103.8 L256.2,103.4 L256.4,103.0 L256.7,102.6 L256.9,102.2 L257.1,101.8 L257.2,101.4 L257.4,100.9 L257.6,100.5 L257.8,100.1 L258.0,99.7 L258.2,99.3 L258.4,98.9 L258.6,98.5 L258.9,98.1 L259.1,97.7 L259.3,97.3 L259.5,96.9 L259.7,96.5 L259.9,96.1 L260.1,95.7 L260.3,95.3 L260.5,94.9 L260.7,94.5 L260.8,94.1 L261.0,93.6 L261.2,93.2 L261.4,92.8 L261.5,92.4 L261.7,91.9 L261.9,91.5 L262.0,91.1 L262.2,90.7 L262.4,90.2 L262.5,89.8 L262.7,89.4 L262.8,88.9 L263.0,88.5 L263.1,88.1 L263.3,87.7 L263.4,87.2 L263.6,86.8 L263.7,86.3 L263.9,85.9 L264.0,85.5 L264.1,85.0 L264.3,84.6 L264.4,84.2 L264.5,83.7 L264.6,83.3 L264.8,82.9 L264.9,82.4 L265.0,82.0 L265.1,81.5 L265.2,81.1 L265.4,80.7 L265.5,80.2 L265.6,79.8 L265.7,79.3 L265.8,78.9 L265.9,78.5 L266.0,78.0 L266.1,77.6 L266.2,77.1 L266.3,76.7 L266.4,76.2 L266.5,75.8 L266.6,75.3 L266.7,74.9 L266.8,74.5 L266.9,74.0 L267.0,73.6 L267.1,73.1 L267.2,72.7 L267.3,72.2 L267.4,71.8 L267.4,71.3 L267.5,70.9 L267.6,70.4 L267.7,70.0 L267.8,69.5 L267.8,69.1 L267.9,68.6 L268.0,68.2 L268.0,67.7 L268.1,67.3 L268.2,66.8 L268.2,66.4 L268.3,65.9 L268.4,65.5 L268.4,65.0 L268.5,64.6 L268.5,64.1 L268.6,63.7 L268.6,63.2 L268.7,62.8 L268.7,62.3 L268.8,61.9 L268.8,61.4 L268.8,61.9 L268.8,62.3 L268.8,62.8 L268.8,63.2 L268.8,63.7 L268.9,64.1 L268.9,64.6 L268.9,65.0 L268.9,65.5 L268.9,66.0 L268.9,66.4 L268.9,66.9 L268.9,67.3 L268.9,67.8 L268.9,68.2 L268.9,68.7 L268.9,69.1 L268.9,69.6 L269.0,70.1 L269.0,70.5 L269.0,71.0 L269.0,71.4 L269.0,71.9 L269.0,72.3 L269.0,72.8 L269.0,73.2 L269.0,73.7 L269.0,74.2 L269.0,74.6 L269.0,75.1 L269.0,75.5 L269.0,76.0 L269.1,76.4 L269.1,76.9 L269.1,77.3 L269.1,77.8 L269.1,78.3 L269.1,78.7 L269.1,79.2 L269.1,79.6 L269.1,80.1 L269.1,80.5 L269.1,81.0 L269.1,81.4 L269.1,81.9 L269.1,82.4 L269.1,82.8 L269.1,83.3 L269.1,83.7 L269.2,84.2 L269.2,84.6 L269.2,85.1 L269.2,85.5 L269.2,86.0 L269.2,86.5 L269.2,86.9 L269.2,87.4 L269.2,87.8 L269.2,88.3 L269.2,88.7 L269.2,89.2 L269.2,89.6 L269.2,90.1 L269.2,90.6 L269.2,91.0 L269.2,91.5 L269.2,91.9 L269.2,92.4 L269.2,92.8 L269.3,93.3 L269.3,93.7 L269.3,94.2 L269.3,94.7 L269.3,95.1 L269.3,95.6 L269.3,96.0 L269.3,96.5 L269.3,96.9 L269.3,97.4 L269.3,97.8 L269.3,98.3 L269.3,98.8 L269.3,99.2 L269.3,99.7 L269.3,100.1 L269.3,100.6 L269.3,101.0 L269.3,101.5 L269.3,101.9 L269.3,102.4 L269.3,102.9 L269.3,103.3 L269.3,103.8 L269.3,104.2 L269.3,104.7 L269.3,105.1 L269.3,105.6 L269.3,106.0 L269.3,106.5 L269.3,107.0 L269.3,107.4 L269.3,107.9 L269.3,108.3 L269.3,108.8 L269.3,109.2 L269.3,109.7 L269.3,110.1 L269.3,110.6 L269.3,111.1 L269.3,111.5 L269.4,112.0 L269.4,112.4 L269.4,112.9 L269.4,113.3 L269.4,113.8 L269.4,114.2 L269.4,114.7 L269.4,115.2 L269.4,115.6 L269.4,116.1 L269.4,116.5 L269.4,117.0 L269.4,117.4 L269.4,117.9 L269.4,118.4 L269.4,118.8 L269.4,119.3 L269.4,119.7 L269.4,120.2 L269.4,120.6 L269.4,121.1 L269.4,121.5 L269.4,122.0 L269.4,122.5 L269.4,122.9 L269.4,123.4 L269.4,123.8 L269.4,124.3 L269.4,124.7 L269.4,125.2 L269.4,125.6 L269.4,126.1 L269.4,126.6 L269.4,127.0 L269.4,127.5 L269.4,127.9 L269.4,128.4 L269.4,128.8 L269.4,129.3 L269.4,129.7 L269.4,130.2 L269.4,130.7 L269.4,131.1 L269.4,131.6 L269.4,132.0 L269.4,132.5 L269.4,132.9 L269.4,133.4 L269.4,133.8 L269.4,134.3 L269.4,134.7 L269.4,135.2 L269.4,135.7 L269.4,136.1 L269.4,136.6 L269.4,137.0 L269.4,137.5 L269.4,137.9 L269.3,138.4 L269.3,138.8 L269.3,139.3 L269.3,139.8 L269.3,140.2 L269.3,140.7 L269.2,141.1 L269.2,141.6 L269.2,142.0 L269.2,142.5 L269.2,142.9 L269.1,143.4 L269.1,143.9 L269.1,144.3 L269.0,144.8 L269.0,145.2 L269.0,145.7 L268.9,146.1 L268.9,146.6 L268.9,147.0 L268.8,147.5 L268.8,147.9 L268.8,148.4 L268.7,148.9 L268.7,149.3 L268.7,149.8 L268.6,150.2 L268.6,150.7 L268.6,151.1 L268.5,151.6 L268.5,152.0 L268.5,152.5 L268.4,152.9 L268.4,153.4 L268.4,153.9 L268.3,154.3 L268.3,154.8 L268.3,155.2 L268.2,155.7 L268.2,156.1 L268.2,156.6 L268.1,157.0 L268.1,157.5 L268.1,157.9 L268.0,158.4 L268.0,158.8 L267.9,159.3 L267.9,159.8 L267.9,160.2 L267.8,160.7 L267.8,161.1 L267.7,161.6 L267.7,162.0 L267.7,162.5 L267.6,162.9 L267.6,163.4 L267.5,163.8 L267.5,164.3 L267.4,164.7 L267.4,165.2 L267.4,165.7 L267.3,166.1 L267.3,166.6 L267.2,167.0 L267.2,167.5 L267.1,167.9 L267.1,168.4 L267.0,168.8 L267.0,169.3 L266.9,169.7 L266.9,170.2 L266.8,170.6 L266.8,171.1 L266.7,171.5 L266.7,172.0 L266.6,172.5 L266.6,172.9 L266.5,173.4 L266.5,173.8 L266.4,174.3 L266.4,174.7 L266.3,175.2 L266.3,175.6 L266.2,176.1 L266.2,176.5 L266.1,177.0 L266.1,177.4 L266.0,177.9 L266.0,178.3 L265.9,178.8 L265.9,179.2 L265.8,179.7 L265.8,180.2 L265.7,180.6 L265.7,181.1 L265.6,181.5 L265.6,182.0 L265.5,182.4 L265.5,182.9 L265.4,183.3 L265.4,183.8 L265.3,184.2 L265.3,184.7 L265.2,185.1 L265.2,185.6 L265.1,186.0 L265.1,186.5 L265.0,186.9 L265.0,187.4 L264.9,187.8 L264.9,188.3 L264.8,188.8 L264.7,189.2 L264.7,189.7 L264.6,190.1 L264.6,190.6 L264.5,191.0 L264.5,191.5 L264.4,191.9 L264.4,192.4 L264.3,192.8 L264.3,193.3 L264.2,193.7 L264.1,194.2 L264.1,194.6 L264.0,195.1 L264.0,195.5 L263.9,196.0 L263.9,196.4 L263.8,196.9 L263.7,197.3 L263.7,197.8 L263.6,198.3 L263.6,198.7 L263.5,199.2 L263.4,199.6 L263.4,200.1 L263.3,200.5 L263.3,201.0 L263.2,201.4 L263.1,201.9 L263.1,202.3 L263.0,202.8 L263.0,203.2 L262.9,203.7 L262.8,204.1 L262.8,204.6 L262.7,205.0 L262.7,205.5 L262.6,205.9 L262.5,206.4 L262.5,206.8 L262.4,207.3 L262.3,207.7 L262.3,208.2 L262.2,208.6 L262.1,209.1 L262.1,209.5 L262.0,210.0 L261.9,210.4 L261.9,210.9 L261.8,211.3 L261.7,211.8 L261.7,212.2 L261.6,212.7 L261.5,213.1 L261.5,213.6 L261.4,214.0 L261.3,214.5 L261.2,214.9 L261.2,215.4 L261.1,215.8 L261.0,216.3 L260.9,216.7 L260.9,217.2 L260.8,217.6 L260.7,218.1 L260.6,218.5 L260.6,219.0 L260.5,219.4 L260.4,219.9 L260.3,220.3 L260.2,220.8 L260.1,221.2 L260.1,221.7 L260.0,222.1 L259.9,222.6 L259.8,223.0 L259.7,223.5 L259.6,223.9 L259.5,224.3 L259.4,224.8 L259.3,225.2 L259.2,225.7 L259.1,226.1 L259.0,226.6 L258.9,227.0 L258.8,227.5 L258.7,227.9 L258.6,228.3 L258.5,228.8 L258.3,229.2 L258.2,229.7 L258.1,230.1 L258.0,230.5 L257.9,231.0 L257.8,231.4 L257.6,231.9 L257.5,232.3 L257.4,232.7 L257.3,233.2 L257.1,233.6 L257.0,234.1 L256.9,234.5 L256.8,234.9 L256.7,235.4 L256.5,235.8 L256.4,236.3 L256.3,236.7 L256.2,237.1 L256.1,237.6 L256.0,238.0 L255.9,238.5 L255.7,238.9 L255.6,239.3 L255.5,239.8 L255.4,240.2 L255.3,240.7 L255.2,241.1 L255.0,241.5 L254.9,242.0 L254.8,242.4 L254.7,242.9 L254.6,243.3 L254.5,243.8 L254.3,244.2 L254.2,244.6 L254.1,245.1 L254.0,245.5 L253.9,246.0 L253.7,246.4 L253.6,246.8 L253.5,247.3 L253.4,247.7 L253.3,248.1 L253.1,248.6 L253.0,249.0 L252.9,249.5 L252.8,249.9 L252.6,250.3 L252.5,250.8 L252.4,251.2 L252.2,251.6 L252.1,252.1 L252.0,252.5 L251.8,252.9 L251.7,253.4 L251.6,253.8 L251.4,254.3 L251.3,254.7 L251.2,255.1 L251.0,255.6 L250.9,256.0 L250.7,256.4 L250.6,256.9 L250.4,257.3 L250.3,257.7 L250.1,258.1 L249.9,258.6 L249.7,259.0 L249.6,259.4 L249.4,259.8 L249.3,260.3 L249.1,260.7 L249.0,261.1 L248.8,261.6 L248.7,262.0 L248.5,262.4 L248.4,262.8 L248.2,263.3 L248.1,263.7 L247.9,264.1 L247.7,264.5 L247.5,264.9 L247.3,265.4 L247.1,265.8 L246.9,266.2 L246.8,266.6 L246.6,267.0 L246.4,267.5 L246.2,267.9 L246.0,268.3 L245.9,268.7 L245.7,269.1 L245.5,269.5 L245.3,269.9 L245.1,270.4 L244.9,270.8 L244.7,271.2 L244.5,271.6 L244.3,272.0 L244.1,272.4 L243.9,272.8 L243.8,273.3 L243.6,273.7 L243.4,274.1 L243.2,274.5 L243.0,274.9 L242.8,275.3 L242.6,275.7 L242.3,276.1 L242.0,276.5 L241.7,276.8 L241.4,277.2 L241.1,277.5 L240.8,277.9 L240.5,278.2 L240.2,278.6 L239.9,278.9 L239.6,279.3 L239.3,279.6 L239.0,280.0 L238.8,280.3 L238.5,280.7 L238.2,281.1 L238.0,281.5 L237.7,281.9 L237.5,282.2 L237.3,282.6 L237.0,283.0 L236.8,283.5 L236.7,283.9 L236.5,284.3 L236.3,284.8 L236.2,285.2 L236.0,285.6 L235.9,286.1 L235.7,286.5 L235.5,287.0 L235.3,287.4 L235.1,287.8 L234.9,288.2 L234.6,288.5 L234.3,288.9 L234.0,289.3 L233.7,289.6 L233.4,289.9 L233.1,290.3 L232.8,290.6 L232.5,291.0 L232.2,291.3 L231.9,291.7 L231.6,292.0 L231.3,292.3 L231.0,292.7 L230.7,293.0 L230.4,293.3 L230.1,293.6 L229.7,294.0 L229.4,294.3 L229.1,294.6 L228.8,294.9 L228.5,295.3 L228.2,295.6 L228.0,296.0 L227.7,296.4 L227.4,296.8 L227.2,297.2 L226.9,297.5 L226.6,297.9 L226.3,298.3 L226.0,298.6 L225.7,298.9 L225.4,299.2 L225.0,299.5 L224.7,299.8 L224.3,300.1 L224.0,300.4 L223.6,300.7 L223.3,301.0 L223.0,301.4 L222.7,301.7 L222.4,302.1 L222.1,302.4 L221.8,302.8 L221.5,303.2 L221.3,303.5 L220.9,303.8 L220.6,304.2 L220.3,304.5 L220.0,304.8 L219.6,305.1 L219.3,305.4 L218.9,305.7 L218.6,306.0 L218.2,306.3 L217.9,306.6 L217.6,306.9 L217.2,307.2 L216.9,307.5 L216.6,307.9 L216.2,308.2 L215.9,308.5 L215.5,308.7 L215.1,309.0 L214.7,309.2 L214.3,309.4 L213.9,309.7 L213.5,309.9 L213.1,310.1 L212.7,310.4 L212.4,310.7 L212.1,311.0 L211.8,311.4 L211.5,311.7 L211.2,312.1 L211.0,312.5 L210.7,312.9 L210.5,313.3 L210.2,313.7 L210.0,314.1 L209.7,314.4 L209.3,314.7 L209.0,315.1 L208.7,315.4 L208.3,315.7 L208.0,315.9 L207.6,316.2 L207.3,316.6 L207.0,316.9 L206.7,317.2 L206.4,317.6 L206.1,317.9 L205.7,318.2 L205.4,318.6 L205.1,318.9 L204.7,319.2 L204.4,319.5 L204.0,319.8 L203.6,320.0 L203.2,320.3 L202.9,320.6 L202.5,320.9 L202.2,321.2 L201.9,321.6 L201.6,322.0 L201.4,322.4 L201.2,322.8 L201.1,323.3 L200.9,323.7 L200.7,324.2 L200.6,324.6 L200.4,325.0 L200.1,325.4 L199.9,325.8 L199.6,326.1 L199.3,326.5 L199.0,326.8 L198.7,327.1 L198.4,327.5 L198.1,327.8 L197.8,328.2 L197.6,328.6 L197.3,328.9 L197.1,329.3 L196.9,329.8 L196.7,330.2 L196.5,330.6 L196.2,331.0 L196.0,331.3 L195.7,331.7 L195.4,332.0 L195.1,332.4 L194.7,332.7 L194.4,333.1 L194.1,333.4 L193.9,333.8 L193.6,334.2 L193.4,334.6 L193.3,335.0 L193.1,335.5 L193.0,335.9 L192.8,336.4 L192.7,336.8 L192.5,337.2 L192.3,337.6 L192.0,338.0 L191.7,338.4 L191.4,338.7 L191.1,339.0 L190.7,339.4 L190.4,339.7 L190.1,340.1 L189.9,340.4 L189.6,340.8 L189.4,341.3 L189.3,341.7 L189.1,342.1 L189.0,342.6 L188.9,343.1 L188.8,343.5 L188.6,343.9 L188.4,344.4 L188.2,344.8 L188.0,345.1 L187.7,345.5 L187.4,345.9 L187.2,346.3 L186.9,346.6 L186.7,347.0 L186.4,347.4 L186.3,347.8 L186.1,348.3 L185.9,348.7 L185.8,349.1 L185.6,349.5 L185.4,350.0 L185.2,350.4 L184.9,350.7 L184.6,351.1 L184.3,351.4 L184.0,351.8 L183.6,352.1 L183.3,352.5 L182.9,352.8 L182.7,353.2 L182.4,353.6 L182.3,354.0 L182.1,354.4 L182.0,354.9 L182.0,355.4 L181.9,355.9 L181.9,356.3 L181.8,356.8 L181.7,357.3 L181.6,357.7 L181.4,358.1 L181.2,358.6 L181.0,358.9 L180.7,359.3 L180.5,359.7 L180.2,360.1 L180.0,360.5 L179.8,360.9 L179.6,361.3 L179.5,361.8 L179.3,362.2 L179.1,362.6 L179.0,363.1 L178.8,363.5 L178.5,363.9 L178.2,364.2 L177.9,364.6 L177.6,364.9 L177.2,365.2 L176.9,365.5 L176.5,365.8 L176.2,366.2 L175.9,366.5 L175.6,366.9 L175.4,367.3 L175.2,367.7 L175.1,368.1 L174.9,368.6 L174.8,369.1 L174.7,369.5 L174.5,369.9 L174.3,370.4 L174.0,370.7 L173.8,371.1 L173.4,371.5 L173.1,371.8 L172.8,372.1 L172.4,372.4 L172.1,372.8 L171.8,373.1 L171.6,373.5 L171.3,373.9 L171.1,374.3 L170.9,374.7 L170.7,375.1 L170.5,375.6 L170.3,376.0 L170.1,376.3 L169.8,376.7 L169.5,377.1 L169.2,377.4 L168.9,377.7 L168.5,378.0 L168.2,378.4 L167.9,378.7 L167.6,379.1 L167.3,379.5 L167.1,379.9 L166.9,380.3 L166.7,380.7 L166.5,381.2 L166.3,381.6 L166.1,382.0 L165.8,382.4 L165.5,382.7 L165.2,383.0 L164.8,383.3 L164.4,383.6 L164.0,383.8 L163.6,384.0 L163.2,384.3 L162.8,384.5 L162.4,384.8 L162.1,385.1 L161.8,385.4 L161.6,385.8 L161.3,386.1 L161.1,386.5 L160.8,386.9 L160.5,387.2 L160.2,387.6 L159.8,387.9 L159.5,388.2 L159.1,388.4 L158.7,388.6 L158.3,388.9 L157.9,389.1 L157.5,389.3 L157.1,389.6 L156.7,389.8 L156.4,390.1 L156.0,390.5 L155.7,390.8 L155.3,391.1 L155.0,391.4 L154.6,391.7 L154.3,391.9 L153.9,392.1 L153.4,392.3 L153.0,392.5 L152.5,392.6 L152.0,392.8 L151.6,392.9 L151.1,393.0 L150.7,393.2 L150.3,393.5 L149.9,393.7 L149.6,394.1 L149.3,394.4 L149.0,394.8 L148.7,395.1 L148.4,395.5 L148.1,395.9 L147.8,396.2 L147.5,396.5 L147.1,396.8 L146.8,397.1 L146.4,397.4 L146.0,397.6 L145.7,397.2 L145.3,397.0 L144.9,396.7 L144.6,396.4 L144.2,396.2 L143.8,395.9 L143.4,395.7 L143.0,395.4 L142.6,395.2 L142.2,395.0 L141.8,394.8 L141.4,394.6 L141.0,394.4 L140.6,394.2 L140.1,394.1 L139.7,393.9 L139.2,393.8 L138.8,393.6 L138.4,393.5 L137.9,393.3 L137.5,393.1 L137.1,392.9 L136.7,392.7 L136.3,392.5 L135.9,392.2 L135.5,392.0 L135.2,391.7 L134.8,391.4 L134.4,391.1 L134.0,390.9 L133.7,390.6 L133.3,390.4 L132.9,390.2 L132.5,389.9 L132.1,389.7 L131.7,389.5 L131.3,389.3 L130.9,389.0 L130.5,388.8 L130.1,388.5 L129.8,388.2 L129.4,387.9 L129.1,387.6 L128.7,387.3 L128.4,387.0 L128.0,386.7 L127.6,386.4 L127.3,386.1 L126.9,385.8 L126.5,385.6 L126.1,385.3 L125.7,385.0 L125.4,384.7 L125.0,384.4 L124.7,384.1 L124.3,383.8 L124.0,383.5 L123.7,383.2 L123.3,382.9 L122.9,382.7 L122.5,382.4 L122.1,382.3 L121.7,382.2 L121.3,382.1 L120.8,382.1 L120.4,382.1 L119.9,382.1 L119.4,382.1 L119.0,382.1 L118.5,382.1 L118.0,382.1 L117.6,382.0 L117.1,381.9 L116.7,381.8 L116.2,381.7 L115.8,381.5 L115.3,381.4 L114.9,381.3 L114.4,381.1 L114.0,381.0 L113.5,380.9 L113.1,380.8 L112.7,380.6 L112.2,380.4 L111.8,380.2 L111.4,380.0 L111.0,379.7 L110.6,379.5 L110.2,379.2 L109.8,378.9 L109.4,378.6 L109.0,378.3 L108.6,378.1 L108.1,378.0 L107.7,377.9 L107.2,377.8 L106.7,377.8 L106.2,377.9 L105.8,378.0 L105.4,378.1 L104.9,378.3 L104.5,378.5 L104.1,378.6 L103.7,378.7 L103.3,378.8 L102.9,378.9 L102.5,379.0 L102.0,379.1 L101.5,379.2 L101.1,379.3 L100.6,379.5 L100.2,379.6 L99.7,379.8 L99.3,380.0 L98.9,380.2 L98.4,380.4 L98.0,380.6 L97.6,380.7 L97.1,380.8 L96.6,380.8 L96.2,380.9 L95.7,380.8 L95.3,380.8 L94.8,380.8 L94.3,380.8 L93.9,380.8 L93.4,380.8 L92.9,380.9 L92.5,381.0 L92.0,381.2 L91.5,381.4 L91.1,381.6 L90.6,381.7 L90.2,381.9 L89.8,382.0 L89.3,382.1 L88.9,382.1 L88.5,382.2 L88.1,382.2 L87.7,382.2 L87.3,382.3 L86.9,382.4 L86.5,382.7 L86.1,383.0 L85.8,383.3 L85.5,383.7 L85.2,384.1 L84.9,384.5 L84.6,385.0 L84.4,385.4 L84.0,385.8 L83.7,386.1 L83.3,386.4 L82.9,386.7 L82.5,386.9 L82.1,387.0 L81.7,387.1 L81.2,387.2 L80.8,387.3 L80.4,387.4 L79.9,387.5 L79.5,387.6 L79.0,387.8 L78.6,388.0 L78.1,388.1 L77.7,388.3 L77.2,388.4 L76.7,388.4 L76.3,388.5 L75.8,388.5 L75.3,388.5 L74.8,388.5 L74.4,388.5 L73.9,388.5 L73.5,388.7 L73.0,388.8 L72.6,389.1 L72.3,389.4 L71.9,389.7 L71.6,390.1 L71.4,390.5 L71.1,390.9 L70.8,391.3 L70.5,391.7 L70.1,392.0 L69.8,392.4 L69.4,392.7 L69.1,393.0 L68.8,393.3 L68.4,393.6 L68.1,393.9 L67.8,394.3 L67.6,394.6 L67.3,395.0 L67.1,395.3 L66.8,395.7 L66.6,396.1 L66.4,396.5 L66.1,396.9 L65.9,397.3 L65.7,397.7 L65.5,398.2 L65.3,398.6 L65.2,399.1 L65.0,399.5" fill="none" stroke="#000" stroke-width="1.5" stroke-linejoin="round" stroke-linecap="round"/>
<rect x="371.4" y="16.4" width="147.6" height="109.4" fill="none" stroke="#9a9a9a" stroke-width="1.2"/>
<text x="345.60" y="19.10" font-size="6.84" textLength="16.40" lengthAdjust="spacingAndGlyphs" fill="#333" stroke="#333" stroke-width="0.15">0.24</text>
<text x="343.60" y="74.30" font-size="6.84" textLength="18.40" lengthAdjust="spacingAndGlyphs" fill="#333" stroke="#333" stroke-width="0.15">-0.01</text>
<text x="343.60" y="129.30" font-size="6.84" textLength="18.80" lengthAdjust="spacingAndGlyphs" fill="#333" stroke="#333" stroke-width="0.15">-0.26</text>
<text x="369.60" y="138.30" font-size="6.84" textLength="4.00" lengthAdjust="spacingAndGlyphs" fill="#333" stroke="#333" stroke-width="0.15">0</text>
<text x="440.00" y="138.30" font-size="6.84" textLength="10.00" lengthAdjust="spacingAndGlyphs" fill="#333" stroke="#333" stroke-width="0.15">60</text>
<text x="513.60" y="138.30" font-size="6.84" textLength="12.00" lengthAdjust="spacingAndGlyphs" fill="#333" stroke="#333" stroke-width="0.15">120</text>
<text x="424.40" y="144.80" font-size="7.26" textLength="38.60" lengthAdjust="spacingAndGlyphs" fill="#222" stroke="#222" stroke-width="0.25">v / mV s<tspan font-size="65%" dy="-2">-1</tspan></text>
<text transform="translate(335.10,73.80) rotate(-90)" x="0" y="0" font-size="8.80" textLength="16.80" lengthAdjust="spacingAndGlyphs" fill="#222" stroke="#222" stroke-width="0.2">Ip / A</text>
<text x="376.00" y="28.40" font-size="5.59" textLength="60.00" lengthAdjust="spacingAndGlyphs" fill="#222" stroke="#222" stroke-width="0.15">y = 0.0018x + 0.0235</text>
<text x="390.00" y="34.90" font-size="5.59" textLength="33.00" lengthAdjust="spacingAndGlyphs" fill="#222" stroke="#222" stroke-width="0.15">R² = 0.9936</text>
<text x="379.60" y="111.20" font-size="5.59" textLength="61.00" lengthAdjust="spacingAndGlyphs" fill="#222" stroke="#222" stroke-width="0.15">y = -0.0022x - 0.0224</text>
<text x="393.60" y="117.60" font-size="5.59" textLength="32.40" lengthAdjust="spacingAndGlyphs" fill="#222" stroke="#222" stroke-width="0.15">R² = 0.9961</text>
<text x="452.60" y="61.60" font-size="7.54" textLength="13.80" lengthAdjust="spacingAndGlyphs" fill="#111" stroke="#111" stroke-width="0.3">Ipa</text>
<text x="453.00" y="100.60" font-size="7.54" textLength="13.40" lengthAdjust="spacingAndGlyphs" fill="#111" stroke="#111" stroke-width="0.3">Ipc</text>
<text x="486.00" y="75.60" font-size="7.82" textLength="6.00" lengthAdjust="spacingAndGlyphs" fill="#111" stroke="#111" stroke-width="0.3">A</text>
<path d="M377.4,61 L494.6,23.4 M377,77.4 L494.6,120.8" stroke="#111" stroke-width="1.05"/>
<ellipse cx="377.4" cy="60.6" rx="1.9" ry="1.5" fill="#000"/>
<ellipse cx="395.6" cy="55.4" rx="1.9" ry="1.5" fill="#000"/>
<ellipse cx="426.6" cy="47.6" rx="1.9" ry="1.5" fill="#000"/>
<ellipse cx="457.4" cy="37" rx="1.9" ry="1.5" fill="#000"/>
<ellipse cx="494.6" cy="23" rx="1.9" ry="1.5" fill="#000"/>
<ellipse cx="377" cy="75.4" rx="1.9" ry="1.5" fill="#000"/>
<ellipse cx="395.4" cy="85" rx="1.9" ry="1.5" fill="#000"/>
<ellipse cx="426.6" cy="96.6" rx="1.9" ry="1.5" fill="#000"/>
<ellipse cx="457.4" cy="107.4" rx="1.9" ry="1.5" fill="#000"/>
<ellipse cx="494.6" cy="120.6" rx="1.9" ry="1.5" fill="#000"/>
<rect x="370.8" y="150.4" width="150.6" height="109.2" fill="none" stroke="#9a9a9a" stroke-width="1.2"/>
<text x="345.60" y="158.40" font-size="6.84" textLength="16.60" lengthAdjust="spacingAndGlyphs" fill="#333" stroke="#333" stroke-width="0.15">0.68</text>
<text x="345.60" y="210.40" font-size="6.84" textLength="16.60" lengthAdjust="spacingAndGlyphs" fill="#333" stroke="#333" stroke-width="0.15">0.49</text>
<text x="350.00" y="262.40" font-size="6.84" textLength="11.60" lengthAdjust="spacingAndGlyphs" fill="#333" stroke="#333" stroke-width="0.15">0.3</text>
<text x="365.00" y="272.00" font-size="6.84" textLength="12.00" lengthAdjust="spacingAndGlyphs" fill="#333" stroke="#333" stroke-width="0.15">0.3</text>
<text x="438.40" y="272.00" font-size="6.84" textLength="11.20" lengthAdjust="spacingAndGlyphs" fill="#333" stroke="#333" stroke-width="0.15">2.8</text>
<text x="509.60" y="272.00" font-size="6.84" textLength="11.00" lengthAdjust="spacingAndGlyphs" fill="#333" stroke="#333" stroke-width="0.15">5.3</text>
<text x="411.60" y="278.40" font-size="7.54" textLength="60.80" lengthAdjust="spacingAndGlyphs" fill="#222" stroke="#222" stroke-width="0.25">log (v / mV s<tspan font-size="65%" dy="-2">-1</tspan><tspan dy="2">)</tspan></text>
<text transform="translate(341.00,213.80) rotate(-90)" x="0" y="0" font-size="8.38" textLength="17.00" lengthAdjust="spacingAndGlyphs" fill="#222" stroke="#222" stroke-width="0.2">E<tspan font-size="65%" dy="1.8">p</tspan><tspan dy="-1.8"> / V</tspan></text>
<text x="456.00" y="162.80" font-size="7.26" textLength="15.60" lengthAdjust="spacingAndGlyphs" fill="#111" font-weight="bold" stroke="#111" stroke-width="0.15">Epa</text>
<text x="452.00" y="244.60" font-size="7.26" textLength="15.60" lengthAdjust="spacingAndGlyphs" fill="#111" font-weight="bold" stroke="#111" stroke-width="0.15">Epc</text>
<text x="494.00" y="212.60" font-size="7.26" textLength="5.00" lengthAdjust="spacingAndGlyphs" fill="#111" stroke="#111" stroke-width="0.3">B</text>
<path d="M408.4,193.3 L449.6,193.6 M408.4,209.6 L449.4,210" stroke="#111" stroke-width="0.8" fill="none"/>
<ellipse cx="382.4" cy="193" rx="2.45" ry="2.0" fill="#000"/>
<ellipse cx="399.4" cy="193.6" rx="2.45" ry="2.0" fill="#000"/>
<ellipse cx="408.4" cy="193" rx="2.45" ry="2.0" fill="#000"/>
<ellipse cx="413.4" cy="193" rx="2.45" ry="2.0" fill="#000"/>
<ellipse cx="418" cy="193.6" rx="2.45" ry="2.0" fill="#000"/>
<ellipse cx="423" cy="193.6" rx="2.45" ry="2.0" fill="#000"/>
<ellipse cx="428.4" cy="193.6" rx="2.45" ry="2.0" fill="#000"/>
<ellipse cx="433.4" cy="194.4" rx="2.45" ry="2.0" fill="#000"/>
<ellipse cx="437.6" cy="193.6" rx="2.45" ry="2.0" fill="#000"/>
<ellipse cx="441" cy="194" rx="2.45" ry="2.0" fill="#000"/>
<ellipse cx="444" cy="193.4" rx="2.45" ry="2.0" fill="#000"/>
<ellipse cx="447" cy="193.4" rx="2.45" ry="2.0" fill="#000"/>
<ellipse cx="449.6" cy="193.6" rx="2.45" ry="2.0" fill="#000"/>
<ellipse cx="453.6" cy="189" rx="2.45" ry="2.0" fill="#000"/>
<ellipse cx="457" cy="187.4" rx="2.45" ry="2.0" fill="#000"/>
<ellipse cx="459.4" cy="185" rx="2.45" ry="2.0" fill="#000"/>
<ellipse cx="462" cy="181.6" rx="2.45" ry="2.0" fill="#000"/>
<ellipse cx="464.4" cy="179.6" rx="2.45" ry="2.0" fill="#000"/>
<ellipse cx="467" cy="177.6" rx="2.45" ry="2.0" fill="#000"/>
<ellipse cx="469.4" cy="175.4" rx="2.45" ry="2.0" fill="#000"/>
<ellipse cx="471.6" cy="173" rx="2.45" ry="2.0" fill="#000"/>
<ellipse cx="473.4" cy="171" rx="2.45" ry="2.0" fill="#000"/>
<ellipse cx="475" cy="169.4" rx="2.45" ry="2.0" fill="#000"/>
<ellipse cx="451.6" cy="191.4" rx="2.45" ry="2.0" fill="#000"/>
<ellipse cx="382.4" cy="209.6" rx="2.45" ry="2.0" fill="#000"/>
<ellipse cx="399.4" cy="209" rx="2.45" ry="2.0" fill="#000"/>
<ellipse cx="408.4" cy="209.6" rx="2.45" ry="2.0" fill="#000"/>
<ellipse cx="413.4" cy="209" rx="2.45" ry="2.0" fill="#000"/>
<ellipse cx="417" cy="210.4" rx="2.45" ry="2.0" fill="#000"/>
<ellipse cx="422" cy="210.2" rx="2.45" ry="2.0" fill="#000"/>
<ellipse cx="428.4" cy="209.6" rx="2.45" ry="2.0" fill="#000"/>
<ellipse cx="433" cy="209.6" rx="2.45" ry="2.0" fill="#000"/>
<ellipse cx="437" cy="210" rx="2.45" ry="2.0" fill="#000"/>
<ellipse cx="440.6" cy="210" rx="2.45" ry="2.0" fill="#000"/>
<ellipse cx="444" cy="210" rx="2.45" ry="2.0" fill="#000"/>
<ellipse cx="447" cy="210" rx="2.45" ry="2.0" fill="#000"/>
<ellipse cx="449.4" cy="210" rx="2.45" ry="2.0" fill="#000"/>
<ellipse cx="454.4" cy="213.6" rx="2.45" ry="2.0" fill="#000"/>
<ellipse cx="457.4" cy="217" rx="2.45" ry="2.0" fill="#000"/>
<ellipse cx="460" cy="219" rx="2.45" ry="2.0" fill="#000"/>
<ellipse cx="462.4" cy="221" rx="2.45" ry="2.0" fill="#000"/>
<ellipse cx="464.4" cy="223" rx="2.45" ry="2.0" fill="#000"/>
<ellipse cx="466.6" cy="225" rx="2.45" ry="2.0" fill="#000"/>
<ellipse cx="468.4" cy="227.6" rx="2.45" ry="2.0" fill="#000"/>
<ellipse cx="470.4" cy="230" rx="2.45" ry="2.0" fill="#000"/>
<ellipse cx="472" cy="232" rx="2.45" ry="2.0" fill="#000"/>
<ellipse cx="473.6" cy="234" rx="2.45" ry="2.0" fill="#000"/>
<ellipse cx="475" cy="235.6" rx="2.45" ry="2.0" fill="#000"/>
<ellipse cx="451.8" cy="211.6" rx="2.45" ry="2.0" fill="#000"/>
<rect x="371.6" y="285.4" width="151" height="107.6" fill="none" stroke="#9a9a9a" stroke-width="1.2"/>
<text x="346.60" y="287.70" font-size="6.84" textLength="16.00" lengthAdjust="spacingAndGlyphs" fill="#333" stroke="#333" stroke-width="0.15">0.67</text>
<text x="346.60" y="341.80" font-size="6.84" textLength="16.00" lengthAdjust="spacingAndGlyphs" fill="#333" stroke="#333" stroke-width="0.15">0.52</text>
<text x="346.60" y="395.80" font-size="6.84" textLength="16.00" lengthAdjust="spacingAndGlyphs" fill="#333" stroke="#333" stroke-width="0.15">0.37</text>
<text x="366.40" y="404.40" font-size="6.84" textLength="11.20" lengthAdjust="spacingAndGlyphs" fill="#333" stroke="#333" stroke-width="0.15">2.9</text>
<text x="435.00" y="404.40" font-size="6.84" textLength="16.00" lengthAdjust="spacingAndGlyphs" fill="#333" stroke="#333" stroke-width="0.15">3.42</text>
<text x="506.40" y="404.40" font-size="6.84" textLength="16.00" lengthAdjust="spacingAndGlyphs" fill="#333" stroke="#333" stroke-width="0.15">3.94</text>
<text x="416.60" y="415.60" font-size="7.82" textLength="61.00" lengthAdjust="spacingAndGlyphs" fill="#222" stroke="#222" stroke-width="0.25">log (v / mV s<tspan font-size="65%" dy="-2">-1</tspan><tspan dy="2">)</tspan></text>
<text transform="translate(340.40,348.90) rotate(-90)" x="0" y="0" font-size="8.38" textLength="16.90" lengthAdjust="spacingAndGlyphs" fill="#222" stroke="#222" stroke-width="0.2">E<tspan font-size="65%" dy="1.8">p</tspan><tspan dy="-1.8"> / V</tspan></text>
<text x="375.60" y="298.40" font-size="5.87" textLength="70.40" lengthAdjust="spacingAndGlyphs" fill="#222" stroke="#222" stroke-width="0.15">y = 0.1001x + 0.2396</text>
<text x="391.20" y="305.50" font-size="5.73" textLength="38.60" lengthAdjust="spacingAndGlyphs" fill="#222" stroke="#222" stroke-width="0.15">R² = 0.9934</text>
<text x="377.00" y="378.00" font-size="6.15" textLength="73.00" lengthAdjust="spacingAndGlyphs" fill="#222" stroke="#222" stroke-width="0.15">y = -0.1015x + 0.7921</text>
<text x="394.40" y="385.00" font-size="6.15" textLength="39.20" lengthAdjust="spacingAndGlyphs" fill="#222" stroke="#222" stroke-width="0.15">R² = 0.9914</text>
<text x="476.40" y="336.80" font-size="7.26" textLength="5.60" lengthAdjust="spacingAndGlyphs" fill="#111" stroke="#111" stroke-width="0.3">C</text>
<path d="M385.4,331 L509,299 M385.4,351.6 L509,384" stroke="#111" stroke-width="1.05"/>
<ellipse cx="385.4" cy="330.6" rx="2.6" ry="2.05" fill="#000"/>
<ellipse cx="409.4" cy="325" rx="2.6" ry="2.05" fill="#000"/>
<ellipse cx="426.6" cy="323" rx="2.6" ry="2.05" fill="#000"/>
<ellipse cx="439.4" cy="318.4" rx="2.6" ry="2.05" fill="#000"/>
<ellipse cx="450.4" cy="314.4" rx="2.6" ry="2.05" fill="#000"/>
<ellipse cx="467.6" cy="311" rx="2.6" ry="2.05" fill="#000"/>
<ellipse cx="481" cy="307" rx="2.6" ry="2.05" fill="#000"/>
<ellipse cx="491.4" cy="304.6" rx="2.6" ry="2.05" fill="#000"/>
<ellipse cx="501" cy="301" rx="2.6" ry="2.05" fill="#000"/>
<ellipse cx="509" cy="299" rx="2.6" ry="2.05" fill="#000"/>
<ellipse cx="385.6" cy="352" rx="2.6" ry="2.05" fill="#000"/>
<ellipse cx="409.4" cy="357" rx="2.6" ry="2.05" fill="#000"/>
<ellipse cx="426.6" cy="361.6" rx="2.6" ry="2.05" fill="#000"/>
<ellipse cx="439.4" cy="365" rx="2.6" ry="2.05" fill="#000"/>
<ellipse cx="450.4" cy="367.6" rx="2.6" ry="2.05" fill="#000"/>
<ellipse cx="467.6" cy="371" rx="2.6" ry="2.05" fill="#000"/>
<ellipse cx="481" cy="375" rx="2.6" ry="2.05" fill="#000"/>
<ellipse cx="491.4" cy="378.6" rx="2.6" ry="2.05" fill="#000"/>
<ellipse cx="501" cy="381.6" rx="2.6" ry="2.05" fill="#000"/>
<ellipse cx="509" cy="385.6" rx="2.6" ry="2.05" fill="#000"/>
</svg>
</body></html>
